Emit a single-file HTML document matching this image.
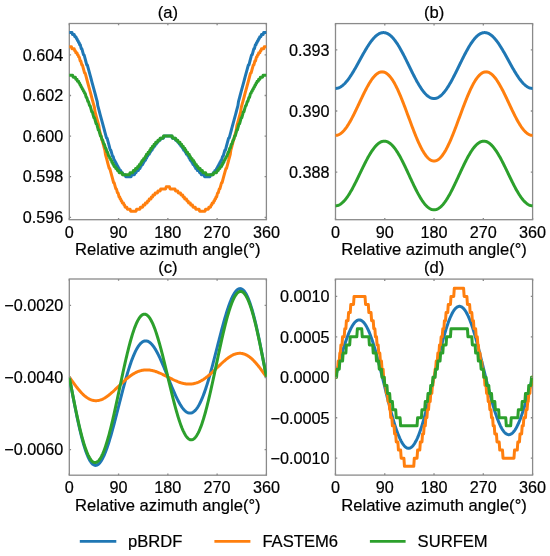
<!DOCTYPE html>
<html><head><meta charset="utf-8"><title>Figure</title>
<style>
html,body{margin:0;padding:0;background:#fff;width:550px;height:556px;overflow:hidden}
svg{display:block}
text{font-family:"Liberation Sans",Arial,Helvetica,sans-serif;fill:#000;stroke:#000;stroke-width:0.2px}
</style></head><body>
<svg width="550" height="556" viewBox="0 0 550 556"><defs><clipPath id="clipa"><rect x="68.95" y="23.15" width="197.8" height="196.9"/></clipPath><clipPath id="clipb"><rect x="335.15" y="23.25" width="197.8" height="196.8"/></clipPath><clipPath id="clipc"><rect x="68.95" y="278.65" width="197.8" height="196.9"/></clipPath><clipPath id="clipd"><rect x="335.1" y="278.75" width="197.85" height="196.7"/></clipPath></defs><rect width="550" height="556" fill="#fff"/><rect x="69.3" y="23.5" width="197.1" height="196.2" fill="none" stroke="#8a8a8a" stroke-width="1.3"/>
<rect x="335.5" y="23.6" width="197.1" height="196.1" fill="none" stroke="#8a8a8a" stroke-width="1.3"/>
<rect x="69.3" y="279" width="197.1" height="196.2" fill="none" stroke="#8a8a8a" stroke-width="1.3"/>
<rect x="335.45" y="279.1" width="197.15" height="196" fill="none" stroke="#8a8a8a" stroke-width="1.3"/>
<path d="M69.3 32.57 L69.85 32.57 L70.39 32.57 L70.94 32.57 L71.49 32.57 L72.04 32.57 L72.58 34.6 L73.13 34.6 L73.68 34.6 L74.23 34.6 L74.77 36.63 L75.32 36.63 L75.87 36.63 L76.42 38.66 L76.97 38.66 L77.51 40.69 L78.06 40.69 L78.61 42.72 L79.16 42.72 L79.7 44.75 L80.25 44.75 L80.8 46.78 L81.34 48.81 L81.89 48.81 L82.44 50.84 L82.99 52.87 L83.53 54.9 L84.08 54.9 L84.63 56.93 L85.18 58.96 L85.72 60.99 L86.27 63.02 L86.82 65.05 L87.37 65.05 L87.91 67.08 L88.46 69.11 L89.01 71.14 L89.56 73.17 L90.1 75.2 L90.65 77.23 L91.2 79.26 L91.75 81.29 L92.29 83.32 L92.84 85.35 L93.39 87.38 L93.94 89.41 L94.48 91.44 L95.03 93.47 L95.58 95.5 L96.13 97.53 L96.67 99.56 L97.22 101.59 L97.77 105.65 L98.32 107.68 L98.86 109.71 L99.41 111.74 L99.96 113.77 L100.51 115.8 L101.05 117.83 L101.6 119.86 L102.15 121.89 L102.7 123.92 L103.24 125.95 L103.79 127.98 L104.34 130.01 L104.89 132.04 L105.44 134.07 L105.98 136.1 L106.53 138.13 L107.08 138.13 L107.62 140.16 L108.17 142.19 L108.72 144.22 L109.27 146.25 L109.81 148.28 L110.36 150.31 L110.91 150.31 L111.46 152.34 L112 154.37 L112.55 156.4 L113.1 156.4 L113.65 158.43 L114.19 160.46 L114.74 160.46 L115.29 162.49 L115.84 162.49 L116.38 164.52 L116.93 164.52 L117.48 166.55 L118.03 166.55 L118.57 168.58 L119.12 168.58 L119.67 170.61 L120.22 170.61 L120.76 170.61 L121.31 172.64 L121.86 172.64 L122.41 172.64 L122.95 174.67 L123.5 174.67 L124.05 174.67 L124.6 174.67 L125.14 174.67 L125.69 176.7 L126.24 176.7 L126.79 176.7 L127.33 176.7 L127.88 176.7 L128.43 176.7 L128.98 176.7 L129.52 176.7 L130.07 176.7 L130.62 176.7 L131.17 176.7 L131.71 174.67 L132.26 174.67 L132.81 174.67 L133.36 174.67 L133.9 174.67 L134.45 174.67 L135 172.64 L135.55 172.64 L136.09 172.64 L136.64 170.61 L137.19 170.61 L137.74 170.61 L138.28 170.61 L138.83 168.58 L139.38 168.58 L139.93 168.58 L140.47 166.55 L141.02 166.55 L141.57 164.52 L142.12 164.52 L142.66 164.52 L143.21 162.49 L143.76 162.49 L144.31 160.46 L144.85 160.46 L145.4 160.46 L145.95 158.43 L146.5 158.43 L147.04 156.4 L147.59 156.4 L148.14 154.37 L148.69 154.37 L149.23 154.37 L149.78 152.34 L150.33 152.34 L150.88 150.31 L151.42 150.31 L151.97 150.31 L152.52 148.28 L153.07 148.28 L153.61 146.25 L154.16 146.25 L154.71 146.25 L155.26 144.22 L155.8 144.22 L156.35 144.22 L156.9 142.19 L157.45 142.19 L157.99 142.19 L158.54 140.16 L159.09 140.16 L159.64 140.16 L160.19 140.16 L160.73 138.13 L161.28 138.13 L161.83 138.13 L162.37 138.13 L162.92 138.13 L163.47 138.13 L164.02 136.1 L164.56 136.1 L165.11 136.1 L165.66 136.1 L166.21 136.1 L166.75 136.1 L167.3 136.1 L167.85 136.1 L168.4 136.1 L168.94 136.1 L169.49 136.1 L170.04 136.1 L170.59 136.1 L171.13 136.1 L171.68 136.1 L172.23 138.13 L172.78 138.13 L173.32 138.13 L173.87 138.13 L174.42 138.13 L174.97 138.13 L175.51 140.16 L176.06 140.16 L176.61 140.16 L177.16 140.16 L177.7 142.19 L178.25 142.19 L178.8 142.19 L179.35 144.22 L179.89 144.22 L180.44 144.22 L180.99 146.25 L181.54 146.25 L182.08 146.25 L182.63 148.28 L183.18 148.28 L183.73 150.31 L184.27 150.31 L184.82 150.31 L185.37 152.34 L185.92 152.34 L186.46 154.37 L187.01 154.37 L187.56 154.37 L188.11 156.4 L188.65 156.4 L189.2 158.43 L189.75 158.43 L190.3 160.46 L190.84 160.46 L191.39 160.46 L191.94 162.49 L192.49 162.49 L193.03 164.52 L193.58 164.52 L194.13 164.52 L194.68 166.55 L195.22 166.55 L195.77 168.58 L196.32 168.58 L196.87 168.58 L197.41 170.61 L197.96 170.61 L198.51 170.61 L199.06 170.61 L199.6 172.64 L200.15 172.64 L200.7 172.64 L201.25 174.67 L201.79 174.67 L202.34 174.67 L202.89 174.67 L203.44 174.67 L203.98 174.67 L204.53 176.7 L205.08 176.7 L205.63 176.7 L206.17 176.7 L206.72 176.7 L207.27 176.7 L207.82 176.7 L208.37 176.7 L208.91 176.7 L209.46 176.7 L210.01 176.7 L210.55 174.67 L211.1 174.67 L211.65 174.67 L212.2 174.67 L212.74 174.67 L213.29 172.64 L213.84 172.64 L214.39 172.64 L214.93 170.61 L215.48 170.61 L216.03 170.61 L216.58 168.58 L217.12 168.58 L217.67 166.55 L218.22 166.55 L218.77 164.52 L219.31 164.52 L219.86 162.49 L220.41 162.49 L220.96 160.46 L221.5 160.46 L222.05 158.43 L222.6 156.4 L223.15 156.4 L223.69 154.37 L224.24 152.34 L224.79 150.31 L225.34 150.31 L225.88 148.28 L226.43 146.25 L226.98 144.22 L227.53 142.19 L228.07 140.16 L228.62 138.13 L229.17 138.13 L229.72 136.1 L230.26 134.07 L230.81 132.04 L231.36 130.01 L231.91 127.98 L232.45 125.95 L233 123.92 L233.55 121.89 L234.1 119.86 L234.64 117.83 L235.19 115.8 L235.74 113.77 L236.29 111.74 L236.83 109.71 L237.38 107.68 L237.93 105.65 L238.48 101.59 L239.02 99.56 L239.57 97.53 L240.12 95.5 L240.67 93.47 L241.21 91.44 L241.76 89.41 L242.31 87.38 L242.86 85.35 L243.4 83.32 L243.95 81.29 L244.5 79.26 L245.05 77.23 L245.59 75.2 L246.14 73.17 L246.69 71.14 L247.24 69.11 L247.78 67.08 L248.33 65.05 L248.88 65.05 L249.43 63.02 L249.97 60.99 L250.52 58.96 L251.07 56.93 L251.62 54.9 L252.16 54.9 L252.71 52.87 L253.26 50.84 L253.81 48.81 L254.35 48.81 L254.9 46.78 L255.45 44.75 L256 44.75 L256.54 42.72 L257.09 42.72 L257.64 40.69 L258.19 40.69 L258.73 38.66 L259.28 38.66 L259.83 36.63 L260.38 36.63 L260.92 36.63 L261.47 34.6 L262.02 34.6 L262.57 34.6 L263.12 34.6 L263.66 32.57 L264.21 32.57 L264.76 32.57 L265.3 32.57 L265.85 32.57 L266.4 32.57" fill="none" stroke="#1f77b4" stroke-width="3.0" stroke-linejoin="round" stroke-linecap="butt" clip-path="url(#clipa)"/>
<path d="M69.3 46.78 L69.85 46.78 L70.39 46.78 L70.94 46.78 L71.49 46.78 L72.04 48.81 L72.58 48.81 L73.13 48.81 L73.68 48.81 L74.23 48.81 L74.77 50.84 L75.32 50.84 L75.87 52.87 L76.42 52.87 L76.97 52.87 L77.51 54.9 L78.06 54.9 L78.61 56.93 L79.16 56.93 L79.7 58.96 L80.25 60.99 L80.8 60.99 L81.34 63.02 L81.89 65.05 L82.44 65.05 L82.99 67.08 L83.53 69.11 L84.08 71.14 L84.63 73.17 L85.18 73.17 L85.72 75.2 L86.27 77.23 L86.82 79.26 L87.37 81.29 L87.91 83.32 L88.46 85.35 L89.01 87.38 L89.56 89.41 L90.1 91.44 L90.65 93.47 L91.2 95.5 L91.75 97.53 L92.29 99.56 L92.84 101.59 L93.39 103.62 L93.94 105.65 L94.48 107.68 L95.03 111.74 L95.58 113.77 L96.13 115.8 L96.67 117.83 L97.22 119.86 L97.77 121.89 L98.32 123.92 L98.86 125.95 L99.41 130.01 L99.96 132.04 L100.51 134.07 L101.05 136.1 L101.6 138.13 L102.15 140.16 L102.7 142.19 L103.24 144.22 L103.79 146.25 L104.34 148.28 L104.89 150.31 L105.44 154.37 L105.98 156.4 L106.53 158.43 L107.08 160.46 L107.62 162.49 L108.17 164.52 L108.72 166.55 L109.27 168.58 L109.81 168.58 L110.36 170.61 L110.91 172.64 L111.46 174.67 L112 176.7 L112.55 178.73 L113.1 180.76 L113.65 182.79 L114.19 182.79 L114.74 184.82 L115.29 186.85 L115.84 188.88 L116.38 188.88 L116.93 190.91 L117.48 192.94 L118.03 192.94 L118.57 194.97 L119.12 197 L119.67 197 L120.22 199.03 L120.76 199.03 L121.31 201.06 L121.86 201.06 L122.41 203.09 L122.95 203.09 L123.5 203.09 L124.05 205.12 L124.6 205.12 L125.14 207.15 L125.69 207.15 L126.24 207.15 L126.79 207.15 L127.33 209.18 L127.88 209.18 L128.43 209.18 L128.98 209.18 L129.52 209.18 L130.07 209.18 L130.62 211.21 L131.17 211.21 L131.71 211.21 L132.26 211.21 L132.81 211.21 L133.36 211.21 L133.9 211.21 L134.45 211.21 L135 211.21 L135.55 211.21 L136.09 211.21 L136.64 209.18 L137.19 209.18 L137.74 209.18 L138.28 209.18 L138.83 209.18 L139.38 209.18 L139.93 209.18 L140.47 207.15 L141.02 207.15 L141.57 207.15 L142.12 207.15 L142.66 207.15 L143.21 205.12 L143.76 205.12 L144.31 205.12 L144.85 205.12 L145.4 203.09 L145.95 203.09 L146.5 203.09 L147.04 203.09 L147.59 201.06 L148.14 201.06 L148.69 201.06 L149.23 199.03 L149.78 199.03 L150.33 199.03 L150.88 199.03 L151.42 197 L151.97 197 L152.52 197 L153.07 194.97 L153.61 194.97 L154.16 194.97 L154.71 194.97 L155.26 192.94 L155.8 192.94 L156.35 192.94 L156.9 192.94 L157.45 192.94 L157.99 190.91 L158.54 190.91 L159.09 190.91 L159.64 190.91 L160.19 190.91 L160.73 188.88 L161.28 188.88 L161.83 188.88 L162.37 188.88 L162.92 188.88 L163.47 188.88 L164.02 188.88 L164.56 188.88 L165.11 188.88 L165.66 188.88 L166.21 186.85 L166.75 186.85 L167.3 186.85 L167.85 186.85 L168.4 186.85 L168.94 186.85 L169.49 186.85 L170.04 188.88 L170.59 188.88 L171.13 188.88 L171.68 188.88 L172.23 188.88 L172.78 188.88 L173.32 188.88 L173.87 188.88 L174.42 188.88 L174.97 188.88 L175.51 190.91 L176.06 190.91 L176.61 190.91 L177.16 190.91 L177.7 190.91 L178.25 192.94 L178.8 192.94 L179.35 192.94 L179.89 192.94 L180.44 192.94 L180.99 194.97 L181.54 194.97 L182.08 194.97 L182.63 194.97 L183.18 197 L183.73 197 L184.27 197 L184.82 199.03 L185.37 199.03 L185.92 199.03 L186.46 199.03 L187.01 201.06 L187.56 201.06 L188.11 201.06 L188.65 203.09 L189.2 203.09 L189.75 203.09 L190.3 203.09 L190.84 205.12 L191.39 205.12 L191.94 205.12 L192.49 205.12 L193.03 207.15 L193.58 207.15 L194.13 207.15 L194.68 207.15 L195.22 207.15 L195.77 209.18 L196.32 209.18 L196.87 209.18 L197.41 209.18 L197.96 209.18 L198.51 209.18 L199.06 209.18 L199.6 211.21 L200.15 211.21 L200.7 211.21 L201.25 211.21 L201.79 211.21 L202.34 211.21 L202.89 211.21 L203.44 211.21 L203.98 211.21 L204.53 211.21 L205.08 211.21 L205.63 209.18 L206.17 209.18 L206.72 209.18 L207.27 209.18 L207.82 209.18 L208.37 209.18 L208.91 207.15 L209.46 207.15 L210.01 207.15 L210.55 207.15 L211.1 205.12 L211.65 205.12 L212.2 203.09 L212.74 203.09 L213.29 203.09 L213.84 201.06 L214.39 201.06 L214.93 199.03 L215.48 199.03 L216.03 197 L216.58 197 L217.12 194.97 L217.67 192.94 L218.22 192.94 L218.77 190.91 L219.31 188.88 L219.86 188.88 L220.41 186.85 L220.96 184.82 L221.5 182.79 L222.05 182.79 L222.6 180.76 L223.15 178.73 L223.69 176.7 L224.24 174.67 L224.79 172.64 L225.34 170.61 L225.88 168.58 L226.43 168.58 L226.98 166.55 L227.53 164.52 L228.07 162.49 L228.62 160.46 L229.17 158.43 L229.72 156.4 L230.26 154.37 L230.81 150.31 L231.36 148.28 L231.91 146.25 L232.45 144.22 L233 142.19 L233.55 140.16 L234.1 138.13 L234.64 136.1 L235.19 134.07 L235.74 132.04 L236.29 130.01 L236.83 125.95 L237.38 123.92 L237.93 121.89 L238.48 119.86 L239.02 117.83 L239.57 115.8 L240.12 113.77 L240.67 111.74 L241.21 107.68 L241.76 105.65 L242.31 103.62 L242.86 101.59 L243.4 99.56 L243.95 97.53 L244.5 95.5 L245.05 93.47 L245.59 91.44 L246.14 89.41 L246.69 87.38 L247.24 85.35 L247.78 83.32 L248.33 81.29 L248.88 79.26 L249.43 77.23 L249.97 75.2 L250.52 73.17 L251.07 73.17 L251.62 71.14 L252.16 69.11 L252.71 67.08 L253.26 65.05 L253.81 65.05 L254.35 63.02 L254.9 60.99 L255.45 60.99 L256 58.96 L256.54 56.93 L257.09 56.93 L257.64 54.9 L258.19 54.9 L258.73 52.87 L259.28 52.87 L259.83 52.87 L260.38 50.84 L260.92 50.84 L261.47 48.81 L262.02 48.81 L262.57 48.81 L263.12 48.81 L263.66 48.81 L264.21 46.78 L264.76 46.78 L265.3 46.78 L265.85 46.78 L266.4 46.78" fill="none" stroke="#ff7f0e" stroke-width="3.0" stroke-linejoin="round" stroke-linecap="butt" clip-path="url(#clipa)"/>
<path d="M69.3 75.2 L69.85 75.2 L70.39 75.2 L70.94 75.2 L71.49 75.2 L72.04 75.2 L72.58 75.2 L73.13 77.23 L73.68 77.23 L74.23 77.23 L74.77 77.23 L75.32 77.23 L75.87 79.26 L76.42 79.26 L76.97 79.26 L77.51 81.29 L78.06 81.29 L78.61 81.29 L79.16 83.32 L79.7 83.32 L80.25 85.35 L80.8 85.35 L81.34 87.38 L81.89 87.38 L82.44 89.41 L82.99 89.41 L83.53 91.44 L84.08 91.44 L84.63 93.47 L85.18 93.47 L85.72 95.5 L86.27 97.53 L86.82 97.53 L87.37 99.56 L87.91 101.59 L88.46 101.59 L89.01 103.62 L89.56 105.65 L90.1 105.65 L90.65 107.68 L91.2 109.71 L91.75 111.74 L92.29 111.74 L92.84 113.77 L93.39 115.8 L93.94 117.83 L94.48 117.83 L95.03 119.86 L95.58 121.89 L96.13 123.92 L96.67 123.92 L97.22 125.95 L97.77 127.98 L98.32 130.01 L98.86 130.01 L99.41 132.04 L99.96 134.07 L100.51 136.1 L101.05 136.1 L101.6 138.13 L102.15 140.16 L102.7 140.16 L103.24 142.19 L103.79 144.22 L104.34 144.22 L104.89 146.25 L105.44 148.28 L105.98 148.28 L106.53 150.31 L107.08 152.34 L107.62 152.34 L108.17 154.37 L108.72 156.4 L109.27 156.4 L109.81 158.43 L110.36 158.43 L110.91 160.46 L111.46 160.46 L112 162.49 L112.55 162.49 L113.1 164.52 L113.65 164.52 L114.19 166.55 L114.74 166.55 L115.29 166.55 L115.84 168.58 L116.38 168.58 L116.93 168.58 L117.48 170.61 L118.03 170.61 L118.57 170.61 L119.12 172.64 L119.67 172.64 L120.22 172.64 L120.76 172.64 L121.31 172.64 L121.86 172.64 L122.41 174.67 L122.95 174.67 L123.5 174.67 L124.05 174.67 L124.6 174.67 L125.14 174.67 L125.69 174.67 L126.24 174.67 L126.79 174.67 L127.33 174.67 L127.88 174.67 L128.43 174.67 L128.98 174.67 L129.52 174.67 L130.07 172.64 L130.62 172.64 L131.17 172.64 L131.71 172.64 L132.26 172.64 L132.81 172.64 L133.36 170.61 L133.9 170.61 L134.45 170.61 L135 170.61 L135.55 168.58 L136.09 168.58 L136.64 168.58 L137.19 168.58 L137.74 166.55 L138.28 166.55 L138.83 166.55 L139.38 164.52 L139.93 164.52 L140.47 164.52 L141.02 162.49 L141.57 162.49 L142.12 160.46 L142.66 160.46 L143.21 160.46 L143.76 158.43 L144.31 158.43 L144.85 158.43 L145.4 156.4 L145.95 156.4 L146.5 154.37 L147.04 154.37 L147.59 154.37 L148.14 152.34 L148.69 152.34 L149.23 152.34 L149.78 150.31 L150.33 150.31 L150.88 148.28 L151.42 148.28 L151.97 148.28 L152.52 146.25 L153.07 146.25 L153.61 146.25 L154.16 144.22 L154.71 144.22 L155.26 144.22 L155.8 142.19 L156.35 142.19 L156.9 142.19 L157.45 142.19 L157.99 140.16 L158.54 140.16 L159.09 140.16 L159.64 140.16 L160.19 138.13 L160.73 138.13 L161.28 138.13 L161.83 138.13 L162.37 138.13 L162.92 138.13 L163.47 136.1 L164.02 136.1 L164.56 136.1 L165.11 136.1 L165.66 136.1 L166.21 136.1 L166.75 136.1 L167.3 136.1 L167.85 136.1 L168.4 136.1 L168.94 136.1 L169.49 136.1 L170.04 136.1 L170.59 136.1 L171.13 136.1 L171.68 136.1 L172.23 136.1 L172.78 138.13 L173.32 138.13 L173.87 138.13 L174.42 138.13 L174.97 138.13 L175.51 138.13 L176.06 140.16 L176.61 140.16 L177.16 140.16 L177.7 140.16 L178.25 142.19 L178.8 142.19 L179.35 142.19 L179.89 142.19 L180.44 144.22 L180.99 144.22 L181.54 144.22 L182.08 146.25 L182.63 146.25 L183.18 146.25 L183.73 148.28 L184.27 148.28 L184.82 148.28 L185.37 150.31 L185.92 150.31 L186.46 152.34 L187.01 152.34 L187.56 152.34 L188.11 154.37 L188.65 154.37 L189.2 154.37 L189.75 156.4 L190.3 156.4 L190.84 158.43 L191.39 158.43 L191.94 158.43 L192.49 160.46 L193.03 160.46 L193.58 160.46 L194.13 162.49 L194.68 162.49 L195.22 164.52 L195.77 164.52 L196.32 164.52 L196.87 166.55 L197.41 166.55 L197.96 166.55 L198.51 168.58 L199.06 168.58 L199.6 168.58 L200.15 168.58 L200.7 170.61 L201.25 170.61 L201.79 170.61 L202.34 170.61 L202.89 172.64 L203.44 172.64 L203.98 172.64 L204.53 172.64 L205.08 172.64 L205.63 172.64 L206.17 174.67 L206.72 174.67 L207.27 174.67 L207.82 174.67 L208.37 174.67 L208.91 174.67 L209.46 174.67 L210.01 174.67 L210.55 174.67 L211.1 174.67 L211.65 174.67 L212.2 174.67 L212.74 174.67 L213.29 174.67 L213.84 172.64 L214.39 172.64 L214.93 172.64 L215.48 172.64 L216.03 172.64 L216.58 172.64 L217.12 170.61 L217.67 170.61 L218.22 170.61 L218.77 168.58 L219.31 168.58 L219.86 168.58 L220.41 166.55 L220.96 166.55 L221.5 166.55 L222.05 164.52 L222.6 164.52 L223.15 162.49 L223.69 162.49 L224.24 160.46 L224.79 160.46 L225.34 158.43 L225.88 158.43 L226.43 156.4 L226.98 156.4 L227.53 154.37 L228.07 152.34 L228.62 152.34 L229.17 150.31 L229.72 148.28 L230.26 148.28 L230.81 146.25 L231.36 144.22 L231.91 144.22 L232.45 142.19 L233 140.16 L233.55 140.16 L234.1 138.13 L234.64 136.1 L235.19 136.1 L235.74 134.07 L236.29 132.04 L236.83 130.01 L237.38 130.01 L237.93 127.98 L238.48 125.95 L239.02 123.92 L239.57 123.92 L240.12 121.89 L240.67 119.86 L241.21 117.83 L241.76 117.83 L242.31 115.8 L242.86 113.77 L243.4 111.74 L243.95 111.74 L244.5 109.71 L245.05 107.68 L245.59 105.65 L246.14 105.65 L246.69 103.62 L247.24 101.59 L247.78 101.59 L248.33 99.56 L248.88 97.53 L249.43 97.53 L249.97 95.5 L250.52 93.47 L251.07 93.47 L251.62 91.44 L252.16 91.44 L252.71 89.41 L253.26 89.41 L253.81 87.38 L254.35 87.38 L254.9 85.35 L255.45 85.35 L256 83.32 L256.54 83.32 L257.09 81.29 L257.64 81.29 L258.19 81.29 L258.73 79.26 L259.28 79.26 L259.83 79.26 L260.38 77.23 L260.92 77.23 L261.47 77.23 L262.02 77.23 L262.57 77.23 L263.12 75.2 L263.66 75.2 L264.21 75.2 L264.76 75.2 L265.3 75.2 L265.85 75.2 L266.4 75.2" fill="none" stroke="#2ca02c" stroke-width="3.0" stroke-linejoin="round" stroke-linecap="butt" clip-path="url(#clipa)"/>
<path d="M335.5 88.41 L336.05 88.39 L336.6 88.34 L337.14 88.25 L337.69 88.13 L338.24 87.97 L338.79 87.77 L339.33 87.55 L339.88 87.28 L340.43 86.99 L340.98 86.65 L341.52 86.29 L342.07 85.89 L342.62 85.46 L343.17 85 L343.71 84.51 L344.26 83.99 L344.81 83.44 L345.36 82.86 L345.9 82.24 L346.45 81.61 L347 80.94 L347.55 80.25 L348.09 79.54 L348.64 78.79 L349.19 78.03 L349.74 77.24 L350.28 76.44 L350.83 75.61 L351.38 74.76 L351.93 73.9 L352.47 73.01 L353.02 72.12 L353.57 71.2 L354.12 70.27 L354.66 69.33 L355.21 68.38 L355.76 67.42 L356.31 66.45 L356.85 65.47 L357.4 64.49 L357.95 63.5 L358.5 62.5 L359.04 61.51 L359.59 60.51 L360.14 59.51 L360.69 58.51 L361.23 57.52 L361.78 56.53 L362.33 55.54 L362.88 54.56 L363.42 53.59 L363.97 52.62 L364.52 51.67 L365.06 50.72 L365.61 49.79 L366.16 48.88 L366.71 47.97 L367.25 47.09 L367.8 46.22 L368.35 45.37 L368.9 44.53 L369.44 43.72 L369.99 42.93 L370.54 42.16 L371.09 41.42 L371.63 40.7 L372.18 40 L372.73 39.33 L373.28 38.69 L373.82 38.08 L374.37 37.5 L374.92 36.94 L375.47 36.42 L376.01 35.92 L376.56 35.46 L377.11 35.03 L377.66 34.64 L378.2 34.28 L378.75 33.95 L379.3 33.66 L379.85 33.4 L380.39 33.17 L380.94 32.99 L381.49 32.84 L382.04 32.72 L382.59 32.64 L383.13 32.6 L383.68 32.6 L384.23 32.63 L384.78 32.7 L385.32 32.81 L385.87 32.95 L386.42 33.13 L386.97 33.35 L387.51 33.6 L388.06 33.89 L388.61 34.22 L389.16 34.58 L389.7 34.98 L390.25 35.41 L390.8 35.88 L391.35 36.38 L391.89 36.91 L392.44 37.48 L392.99 38.08 L393.54 38.71 L394.08 39.37 L394.63 40.06 L395.18 40.78 L395.73 41.53 L396.27 42.31 L396.82 43.12 L397.37 43.95 L397.92 44.81 L398.46 45.69 L399.01 46.59 L399.56 47.52 L400.11 48.46 L400.65 49.43 L401.2 50.41 L401.75 51.42 L402.3 52.44 L402.84 53.47 L403.39 54.52 L403.94 55.59 L404.49 56.66 L405.03 57.75 L405.58 58.84 L406.13 59.94 L406.68 61.05 L407.22 62.17 L407.77 63.28 L408.32 64.4 L408.87 65.53 L409.41 66.65 L409.96 67.77 L410.51 68.89 L411.06 70.01 L411.6 71.12 L412.15 72.22 L412.7 73.32 L413.25 74.41 L413.79 75.49 L414.34 76.55 L414.89 77.61 L415.44 78.65 L415.98 79.67 L416.53 80.68 L417.08 81.67 L417.62 82.64 L418.17 83.6 L418.72 84.53 L419.27 85.44 L419.81 86.32 L420.36 87.18 L420.91 88.02 L421.46 88.83 L422 89.62 L422.55 90.37 L423.1 91.1 L423.65 91.79 L424.19 92.46 L424.74 93.1 L425.29 93.7 L425.84 94.27 L426.38 94.8 L426.93 95.31 L427.48 95.77 L428.03 96.21 L428.58 96.6 L429.12 96.96 L429.67 97.28 L430.22 97.57 L430.76 97.82 L431.31 98.03 L431.86 98.2 L432.41 98.34 L432.96 98.43 L433.5 98.49 L434.05 98.51 L434.6 98.49 L435.14 98.43 L435.69 98.34 L436.24 98.2 L436.79 98.03 L437.34 97.82 L437.88 97.57 L438.43 97.28 L438.98 96.96 L439.53 96.6 L440.07 96.21 L440.62 95.77 L441.17 95.31 L441.72 94.8 L442.26 94.27 L442.81 93.7 L443.36 93.1 L443.9 92.46 L444.45 91.79 L445 91.1 L445.55 90.37 L446.1 89.62 L446.64 88.83 L447.19 88.02 L447.74 87.18 L448.29 86.32 L448.83 85.44 L449.38 84.53 L449.93 83.6 L450.48 82.64 L451.02 81.67 L451.57 80.68 L452.12 79.67 L452.67 78.65 L453.21 77.61 L453.76 76.55 L454.31 75.49 L454.86 74.41 L455.4 73.32 L455.95 72.22 L456.5 71.12 L457.05 70.01 L457.59 68.89 L458.14 67.77 L458.69 66.65 L459.24 65.53 L459.78 64.4 L460.33 63.28 L460.88 62.17 L461.43 61.05 L461.97 59.94 L462.52 58.84 L463.07 57.75 L463.62 56.66 L464.16 55.59 L464.71 54.52 L465.26 53.47 L465.81 52.44 L466.35 51.42 L466.9 50.42 L467.45 49.43 L468 48.46 L468.54 47.52 L469.09 46.59 L469.64 45.69 L470.19 44.81 L470.73 43.95 L471.28 43.12 L471.83 42.31 L472.38 41.53 L472.92 40.78 L473.47 40.06 L474.02 39.37 L474.57 38.71 L475.11 38.08 L475.66 37.48 L476.21 36.91 L476.75 36.38 L477.3 35.88 L477.85 35.41 L478.4 34.98 L478.95 34.58 L479.49 34.22 L480.04 33.89 L480.59 33.6 L481.13 33.35 L481.68 33.13 L482.23 32.95 L482.78 32.81 L483.33 32.7 L483.87 32.63 L484.42 32.6 L484.97 32.6 L485.51 32.64 L486.06 32.72 L486.61 32.84 L487.16 32.99 L487.71 33.17 L488.25 33.4 L488.8 33.66 L489.35 33.95 L489.89 34.28 L490.44 34.64 L490.99 35.03 L491.54 35.46 L492.09 35.92 L492.63 36.42 L493.18 36.94 L493.73 37.5 L494.28 38.08 L494.82 38.69 L495.37 39.33 L495.92 40 L496.47 40.7 L497.01 41.42 L497.56 42.16 L498.11 42.93 L498.66 43.72 L499.2 44.53 L499.75 45.37 L500.3 46.22 L500.85 47.09 L501.39 47.97 L501.94 48.88 L502.49 49.79 L503.04 50.72 L503.58 51.67 L504.13 52.62 L504.68 53.59 L505.23 54.56 L505.77 55.54 L506.32 56.53 L506.87 57.52 L507.42 58.51 L507.96 59.51 L508.51 60.51 L509.06 61.51 L509.61 62.5 L510.15 63.5 L510.7 64.49 L511.25 65.47 L511.8 66.45 L512.34 67.42 L512.89 68.38 L513.44 69.33 L513.99 70.27 L514.53 71.2 L515.08 72.12 L515.63 73.01 L516.17 73.9 L516.72 74.76 L517.27 75.61 L517.82 76.44 L518.37 77.24 L518.91 78.03 L519.46 78.79 L520.01 79.54 L520.56 80.25 L521.1 80.94 L521.65 81.61 L522.2 82.24 L522.75 82.86 L523.29 83.44 L523.84 83.99 L524.39 84.51 L524.93 85 L525.48 85.46 L526.03 85.89 L526.58 86.29 L527.12 86.65 L527.67 86.99 L528.22 87.28 L528.77 87.55 L529.32 87.77 L529.86 87.97 L530.41 88.13 L530.96 88.25 L531.5 88.34 L532.05 88.39 L532.6 88.41" fill="none" stroke="#1f77b4" stroke-width="3.0" stroke-linejoin="round" stroke-linecap="butt" clip-path="url(#clipb)"/>
<path d="M335.5 135.4 L336.05 135.38 L336.6 135.32 L337.14 135.21 L337.69 135.06 L338.24 134.87 L338.79 134.64 L339.33 134.37 L339.88 134.06 L340.43 133.7 L340.98 133.31 L341.52 132.88 L342.07 132.4 L342.62 131.89 L343.17 131.34 L343.71 130.76 L344.26 130.14 L344.81 129.48 L345.36 128.79 L345.9 128.06 L346.45 127.31 L347 126.52 L347.55 125.7 L348.09 124.85 L348.64 123.97 L349.19 123.06 L349.74 122.13 L350.28 121.17 L350.83 120.19 L351.38 119.19 L351.93 118.16 L352.47 117.12 L353.02 116.06 L353.57 114.98 L354.12 113.89 L354.66 112.78 L355.21 111.66 L355.76 110.52 L356.31 109.38 L356.85 108.23 L357.4 107.08 L357.95 105.91 L358.5 104.75 L359.04 103.58 L359.59 102.42 L360.14 101.25 L360.69 100.09 L361.23 98.93 L361.78 97.77 L362.33 96.63 L362.88 95.49 L363.42 94.36 L363.97 93.25 L364.52 92.15 L365.06 91.06 L365.61 90 L366.16 88.94 L366.71 87.91 L367.25 86.9 L367.8 85.91 L368.35 84.95 L368.9 84.01 L369.44 83.1 L369.99 82.21 L370.54 81.36 L371.09 80.53 L371.63 79.73 L372.18 78.97 L372.73 78.24 L373.28 77.55 L373.82 76.89 L374.37 76.27 L374.92 75.68 L375.47 75.14 L376.01 74.63 L376.56 74.16 L377.11 73.74 L377.66 73.36 L378.2 73.02 L378.75 72.72 L379.3 72.46 L379.85 72.25 L380.39 72.09 L380.94 71.97 L381.49 71.89 L382.04 71.86 L382.59 71.88 L383.13 71.94 L383.68 72.05 L384.23 72.2 L384.78 72.4 L385.32 72.65 L385.87 72.94 L386.42 73.28 L386.97 73.66 L387.51 74.09 L388.06 74.57 L388.61 75.09 L389.16 75.65 L389.7 76.26 L390.25 76.91 L390.8 77.6 L391.35 78.34 L391.89 79.12 L392.44 79.93 L392.99 80.79 L393.54 81.69 L394.08 82.62 L394.63 83.59 L395.18 84.6 L395.73 85.64 L396.27 86.72 L396.82 87.83 L397.37 88.97 L397.92 90.15 L398.46 91.35 L399.01 92.58 L399.56 93.83 L400.11 95.12 L400.65 96.42 L401.2 97.75 L401.75 99.1 L402.3 100.47 L402.84 101.86 L403.39 103.26 L403.94 104.68 L404.49 106.11 L405.03 107.56 L405.58 109.01 L406.13 110.48 L406.68 111.95 L407.22 113.42 L407.77 114.9 L408.32 116.39 L408.87 117.87 L409.41 119.35 L409.96 120.83 L410.51 122.31 L411.06 123.77 L411.6 125.23 L412.15 126.69 L412.7 128.13 L413.25 129.56 L413.79 130.97 L414.34 132.37 L414.89 133.75 L415.44 135.11 L415.98 136.45 L416.53 137.77 L417.08 139.06 L417.62 140.34 L418.17 141.58 L418.72 142.8 L419.27 143.98 L419.81 145.14 L420.36 146.26 L420.91 147.35 L421.46 148.41 L422 149.43 L422.55 150.42 L423.1 151.36 L423.65 152.27 L424.19 153.14 L424.74 153.96 L425.29 154.75 L425.84 155.49 L426.38 156.18 L426.93 156.84 L427.48 157.44 L428.03 158.01 L428.58 158.52 L429.12 158.99 L429.67 159.41 L430.22 159.78 L430.76 160.1 L431.31 160.38 L431.86 160.6 L432.41 160.77 L432.96 160.9 L433.5 160.97 L434.05 161 L434.6 160.97 L435.14 160.9 L435.69 160.77 L436.24 160.6 L436.79 160.38 L437.34 160.1 L437.88 159.78 L438.43 159.41 L438.98 158.99 L439.53 158.52 L440.07 158.01 L440.62 157.44 L441.17 156.84 L441.72 156.18 L442.26 155.49 L442.81 154.75 L443.36 153.96 L443.9 153.14 L444.45 152.27 L445 151.36 L445.55 150.42 L446.1 149.43 L446.64 148.41 L447.19 147.35 L447.74 146.26 L448.29 145.14 L448.83 143.98 L449.38 142.8 L449.93 141.58 L450.48 140.34 L451.02 139.06 L451.57 137.77 L452.12 136.45 L452.67 135.11 L453.21 133.75 L453.76 132.37 L454.31 130.97 L454.86 129.56 L455.4 128.13 L455.95 126.69 L456.5 125.23 L457.05 123.77 L457.59 122.31 L458.14 120.83 L458.69 119.35 L459.24 117.87 L459.78 116.39 L460.33 114.9 L460.88 113.42 L461.43 111.95 L461.97 110.48 L462.52 109.01 L463.07 107.56 L463.62 106.11 L464.16 104.68 L464.71 103.26 L465.26 101.86 L465.81 100.47 L466.35 99.1 L466.9 97.75 L467.45 96.42 L468 95.12 L468.54 93.83 L469.09 92.58 L469.64 91.35 L470.19 90.15 L470.73 88.97 L471.28 87.83 L471.83 86.72 L472.38 85.64 L472.92 84.6 L473.47 83.59 L474.02 82.62 L474.57 81.69 L475.11 80.79 L475.66 79.93 L476.21 79.12 L476.75 78.34 L477.3 77.6 L477.85 76.91 L478.4 76.26 L478.95 75.65 L479.49 75.09 L480.04 74.57 L480.59 74.09 L481.13 73.66 L481.68 73.28 L482.23 72.94 L482.78 72.65 L483.33 72.4 L483.87 72.2 L484.42 72.05 L484.97 71.94 L485.51 71.88 L486.06 71.86 L486.61 71.89 L487.16 71.97 L487.71 72.09 L488.25 72.25 L488.8 72.46 L489.35 72.72 L489.89 73.02 L490.44 73.36 L490.99 73.74 L491.54 74.16 L492.09 74.63 L492.63 75.14 L493.18 75.68 L493.73 76.27 L494.28 76.89 L494.82 77.55 L495.37 78.24 L495.92 78.97 L496.47 79.73 L497.01 80.53 L497.56 81.36 L498.11 82.21 L498.66 83.1 L499.2 84.01 L499.75 84.95 L500.3 85.91 L500.85 86.9 L501.39 87.91 L501.94 88.94 L502.49 90 L503.04 91.06 L503.58 92.15 L504.13 93.25 L504.68 94.36 L505.23 95.49 L505.77 96.63 L506.32 97.77 L506.87 98.93 L507.42 100.09 L507.96 101.25 L508.51 102.42 L509.06 103.58 L509.61 104.75 L510.15 105.91 L510.7 107.08 L511.25 108.23 L511.8 109.38 L512.34 110.52 L512.89 111.66 L513.44 112.78 L513.99 113.89 L514.53 114.98 L515.08 116.06 L515.63 117.12 L516.17 118.16 L516.72 119.19 L517.27 120.19 L517.82 121.17 L518.37 122.13 L518.91 123.06 L519.46 123.97 L520.01 124.85 L520.56 125.7 L521.1 126.52 L521.65 127.31 L522.2 128.06 L522.75 128.79 L523.29 129.48 L523.84 130.14 L524.39 130.76 L524.93 131.34 L525.48 131.89 L526.03 132.4 L526.58 132.88 L527.12 133.31 L527.67 133.7 L528.22 134.06 L528.77 134.37 L529.32 134.64 L529.86 134.87 L530.41 135.06 L530.96 135.21 L531.5 135.32 L532.05 135.38 L532.6 135.4" fill="none" stroke="#ff7f0e" stroke-width="3.0" stroke-linejoin="round" stroke-linecap="butt" clip-path="url(#clipb)"/>
<path d="M335.5 205.8 L336.05 205.78 L336.6 205.72 L337.14 205.62 L337.69 205.48 L338.24 205.3 L338.79 205.08 L339.33 204.83 L339.88 204.53 L340.43 204.19 L340.98 203.82 L341.52 203.41 L342.07 202.96 L342.62 202.48 L343.17 201.96 L343.71 201.41 L344.26 200.82 L344.81 200.19 L345.36 199.54 L345.9 198.85 L346.45 198.13 L347 197.38 L347.55 196.6 L348.09 195.79 L348.64 194.95 L349.19 194.09 L349.74 193.2 L350.28 192.29 L350.83 191.36 L351.38 190.4 L351.93 189.42 L352.47 188.42 L353.02 187.4 L353.57 186.37 L354.12 185.32 L354.66 184.25 L355.21 183.17 L355.76 182.08 L356.31 180.98 L356.85 179.87 L357.4 178.75 L357.95 177.63 L358.5 176.49 L359.04 175.36 L359.59 174.22 L360.14 173.09 L360.69 171.95 L361.23 170.81 L361.78 169.68 L362.33 168.55 L362.88 167.43 L363.42 166.32 L363.97 165.21 L364.52 164.12 L365.06 163.03 L365.61 161.96 L366.16 160.91 L366.71 159.87 L367.25 158.84 L367.8 157.84 L368.35 156.85 L368.9 155.88 L369.44 154.94 L369.99 154.02 L370.54 153.12 L371.09 152.25 L371.63 151.4 L372.18 150.59 L372.73 149.8 L373.28 149.04 L373.82 148.31 L374.37 147.61 L374.92 146.94 L375.47 146.31 L376.01 145.71 L376.56 145.14 L377.11 144.61 L377.66 144.12 L378.2 143.66 L378.75 143.24 L379.3 142.86 L379.85 142.52 L380.39 142.21 L380.94 141.95 L381.49 141.72 L382.04 141.53 L382.59 141.38 L383.13 141.28 L383.68 141.21 L384.23 141.19 L384.78 141.2 L385.32 141.26 L385.87 141.35 L386.42 141.49 L386.97 141.66 L387.51 141.88 L388.06 142.14 L388.61 142.43 L389.16 142.77 L389.7 143.14 L390.25 143.56 L390.8 144.01 L391.35 144.49 L391.89 145.02 L392.44 145.58 L392.99 146.18 L393.54 146.81 L394.08 147.48 L394.63 148.18 L395.18 148.91 L395.73 149.67 L396.27 150.47 L396.82 151.3 L397.37 152.15 L397.92 153.03 L398.46 153.94 L399.01 154.88 L399.56 155.83 L400.11 156.82 L400.65 157.82 L401.2 158.85 L401.75 159.9 L402.3 160.96 L402.84 162.04 L403.39 163.14 L403.94 164.26 L404.49 165.39 L405.03 166.52 L405.58 167.68 L406.13 168.84 L406.68 170 L407.22 171.18 L407.77 172.36 L408.32 173.54 L408.87 174.73 L409.41 175.91 L409.96 177.1 L410.51 178.29 L411.06 179.47 L411.6 180.64 L412.15 181.81 L412.7 182.98 L413.25 184.13 L413.79 185.28 L414.34 186.41 L414.89 187.53 L415.44 188.63 L415.98 189.72 L416.53 190.79 L417.08 191.85 L417.62 192.88 L418.17 193.9 L418.72 194.89 L419.27 195.86 L419.81 196.8 L420.36 197.72 L420.91 198.61 L421.46 199.47 L422 200.31 L422.55 201.11 L423.1 201.89 L423.65 202.63 L424.19 203.34 L424.74 204.02 L425.29 204.66 L425.84 205.27 L426.38 205.84 L426.93 206.38 L427.48 206.88 L428.03 207.34 L428.58 207.76 L429.12 208.15 L429.67 208.49 L430.22 208.8 L430.76 209.06 L431.31 209.29 L431.86 209.47 L432.41 209.61 L432.96 209.72 L433.5 209.78 L434.05 209.8 L434.6 209.78 L435.14 209.72 L435.69 209.61 L436.24 209.47 L436.79 209.29 L437.34 209.06 L437.88 208.8 L438.43 208.49 L438.98 208.15 L439.53 207.76 L440.07 207.34 L440.62 206.88 L441.17 206.38 L441.72 205.84 L442.26 205.27 L442.81 204.66 L443.36 204.02 L443.9 203.34 L444.45 202.63 L445 201.89 L445.55 201.11 L446.1 200.31 L446.64 199.47 L447.19 198.61 L447.74 197.72 L448.29 196.8 L448.83 195.86 L449.38 194.89 L449.93 193.9 L450.48 192.88 L451.02 191.85 L451.57 190.79 L452.12 189.72 L452.67 188.63 L453.21 187.53 L453.76 186.41 L454.31 185.28 L454.86 184.13 L455.4 182.98 L455.95 181.81 L456.5 180.64 L457.05 179.47 L457.59 178.29 L458.14 177.1 L458.69 175.91 L459.24 174.73 L459.78 173.54 L460.33 172.36 L460.88 171.18 L461.43 170 L461.97 168.84 L462.52 167.68 L463.07 166.52 L463.62 165.39 L464.16 164.26 L464.71 163.14 L465.26 162.04 L465.81 160.96 L466.35 159.9 L466.9 158.85 L467.45 157.82 L468 156.82 L468.54 155.83 L469.09 154.88 L469.64 153.94 L470.19 153.03 L470.73 152.15 L471.28 151.3 L471.83 150.47 L472.38 149.67 L472.92 148.91 L473.47 148.18 L474.02 147.48 L474.57 146.81 L475.11 146.18 L475.66 145.58 L476.21 145.02 L476.75 144.49 L477.3 144.01 L477.85 143.56 L478.4 143.14 L478.95 142.77 L479.49 142.43 L480.04 142.14 L480.59 141.88 L481.13 141.66 L481.68 141.49 L482.23 141.35 L482.78 141.26 L483.33 141.2 L483.87 141.19 L484.42 141.21 L484.97 141.28 L485.51 141.38 L486.06 141.53 L486.61 141.72 L487.16 141.95 L487.71 142.21 L488.25 142.52 L488.8 142.86 L489.35 143.24 L489.89 143.66 L490.44 144.12 L490.99 144.61 L491.54 145.14 L492.09 145.71 L492.63 146.31 L493.18 146.94 L493.73 147.61 L494.28 148.31 L494.82 149.04 L495.37 149.8 L495.92 150.59 L496.47 151.4 L497.01 152.25 L497.56 153.12 L498.11 154.02 L498.66 154.94 L499.2 155.88 L499.75 156.85 L500.3 157.84 L500.85 158.84 L501.39 159.87 L501.94 160.91 L502.49 161.96 L503.04 163.03 L503.58 164.12 L504.13 165.21 L504.68 166.32 L505.23 167.43 L505.77 168.55 L506.32 169.68 L506.87 170.81 L507.42 171.95 L507.96 173.09 L508.51 174.22 L509.06 175.36 L509.61 176.49 L510.15 177.63 L510.7 178.75 L511.25 179.87 L511.8 180.98 L512.34 182.08 L512.89 183.17 L513.44 184.25 L513.99 185.32 L514.53 186.37 L515.08 187.4 L515.63 188.42 L516.17 189.42 L516.72 190.4 L517.27 191.36 L517.82 192.29 L518.37 193.2 L518.91 194.09 L519.46 194.95 L520.01 195.79 L520.56 196.6 L521.1 197.38 L521.65 198.13 L522.2 198.85 L522.75 199.54 L523.29 200.19 L523.84 200.82 L524.39 201.41 L524.93 201.96 L525.48 202.48 L526.03 202.96 L526.58 203.41 L527.12 203.82 L527.67 204.19 L528.22 204.53 L528.77 204.83 L529.32 205.08 L529.86 205.3 L530.41 205.48 L530.96 205.62 L531.5 205.72 L532.05 205.78 L532.6 205.8" fill="none" stroke="#2ca02c" stroke-width="3.0" stroke-linejoin="round" stroke-linecap="butt" clip-path="url(#clipb)"/>
<path d="M69.3 377 L69.85 379.94 L70.39 382.87 L70.94 385.79 L71.49 388.71 L72.04 391.61 L72.58 394.49 L73.13 397.36 L73.68 400.2 L74.23 403.02 L74.77 405.8 L75.32 408.56 L75.87 411.27 L76.42 413.95 L76.97 416.59 L77.51 419.18 L78.06 421.73 L78.61 424.22 L79.16 426.66 L79.7 429.05 L80.25 431.37 L80.8 433.64 L81.34 435.84 L81.89 437.98 L82.44 440.05 L82.99 442.05 L83.53 443.97 L84.08 445.83 L84.63 447.61 L85.18 449.31 L85.72 450.93 L86.27 452.47 L86.82 453.93 L87.37 455.3 L87.91 456.59 L88.46 457.8 L89.01 458.92 L89.56 459.95 L90.1 460.89 L90.65 461.74 L91.2 462.51 L91.75 463.18 L92.29 463.77 L92.84 464.26 L93.39 464.67 L93.94 464.98 L94.48 465.21 L95.03 465.35 L95.58 465.39 L96.13 465.35 L96.67 465.22 L97.22 465 L97.77 464.7 L98.32 464.31 L98.86 463.84 L99.41 463.29 L99.96 462.65 L100.51 461.93 L101.05 461.14 L101.6 460.26 L102.15 459.32 L102.7 458.29 L103.24 457.2 L103.79 456.03 L104.34 454.8 L104.89 453.5 L105.44 452.14 L105.98 450.71 L106.53 449.22 L107.08 447.68 L107.62 446.08 L108.17 444.43 L108.72 442.73 L109.27 440.98 L109.81 439.19 L110.36 437.35 L110.91 435.48 L111.46 433.56 L112 431.61 L112.55 429.63 L113.1 427.62 L113.65 425.59 L114.19 423.53 L114.74 421.44 L115.29 419.34 L115.84 417.23 L116.38 415.1 L116.93 412.96 L117.48 410.81 L118.03 408.66 L118.57 406.5 L119.12 404.35 L119.67 402.19 L120.22 400.05 L120.76 397.91 L121.31 395.78 L121.86 393.67 L122.41 391.57 L122.95 389.48 L123.5 387.42 L124.05 385.38 L124.6 383.37 L125.14 381.38 L125.69 379.42 L126.24 377.5 L126.79 375.6 L127.33 373.74 L127.88 371.92 L128.43 370.14 L128.98 368.4 L129.52 366.7 L130.07 365.04 L130.62 363.43 L131.17 361.87 L131.71 360.36 L132.26 358.89 L132.81 357.48 L133.36 356.12 L133.9 354.81 L134.45 353.56 L135 352.36 L135.55 351.22 L136.09 350.14 L136.64 349.11 L137.19 348.14 L137.74 347.24 L138.28 346.39 L138.83 345.6 L139.38 344.87 L139.93 344.2 L140.47 343.6 L141.02 343.05 L141.57 342.57 L142.12 342.15 L142.66 341.78 L143.21 341.48 L143.76 341.24 L144.31 341.06 L144.85 340.94 L145.4 340.88 L145.95 340.88 L146.5 340.94 L147.04 341.06 L147.59 341.23 L148.14 341.46 L148.69 341.74 L149.23 342.08 L149.78 342.48 L150.33 342.92 L150.88 343.42 L151.42 343.97 L151.97 344.57 L152.52 345.22 L153.07 345.91 L153.61 346.66 L154.16 347.44 L154.71 348.27 L155.26 349.14 L155.8 350.05 L156.35 351 L156.9 351.99 L157.45 353.01 L157.99 354.07 L158.54 355.16 L159.09 356.28 L159.64 357.43 L160.19 358.61 L160.73 359.81 L161.28 361.04 L161.83 362.29 L162.37 363.56 L162.92 364.85 L163.47 366.16 L164.02 367.48 L164.56 368.82 L165.11 370.16 L165.66 371.52 L166.21 372.88 L166.75 374.25 L167.3 375.62 L167.85 377 L168.4 378.38 L168.94 379.75 L169.49 381.12 L170.04 382.48 L170.59 383.84 L171.13 385.18 L171.68 386.52 L172.23 387.84 L172.78 389.15 L173.32 390.44 L173.87 391.71 L174.42 392.96 L174.97 394.19 L175.51 395.39 L176.06 396.57 L176.61 397.72 L177.16 398.84 L177.7 399.93 L178.25 400.99 L178.8 402.01 L179.35 403 L179.89 403.95 L180.44 404.86 L180.99 405.73 L181.54 406.56 L182.08 407.34 L182.63 408.09 L183.18 408.78 L183.73 409.43 L184.27 410.03 L184.82 410.58 L185.37 411.08 L185.92 411.52 L186.46 411.92 L187.01 412.26 L187.56 412.54 L188.11 412.77 L188.65 412.94 L189.2 413.06 L189.75 413.12 L190.3 413.12 L190.84 413.06 L191.39 412.94 L191.94 412.76 L192.49 412.52 L193.03 412.22 L193.58 411.85 L194.13 411.43 L194.68 410.95 L195.22 410.4 L195.77 409.8 L196.32 409.13 L196.87 408.4 L197.41 407.61 L197.96 406.76 L198.51 405.86 L199.06 404.89 L199.6 403.86 L200.15 402.78 L200.7 401.64 L201.25 400.44 L201.79 399.19 L202.34 397.88 L202.89 396.52 L203.44 395.11 L203.98 393.64 L204.53 392.13 L205.08 390.57 L205.63 388.96 L206.17 387.3 L206.72 385.6 L207.27 383.86 L207.82 382.08 L208.37 380.26 L208.91 378.4 L209.46 376.5 L210.01 374.58 L210.55 372.62 L211.1 370.63 L211.65 368.62 L212.2 366.58 L212.74 364.52 L213.29 362.43 L213.84 360.33 L214.39 358.22 L214.93 356.09 L215.48 353.95 L216.03 351.81 L216.58 349.65 L217.12 347.5 L217.67 345.34 L218.22 343.19 L218.77 341.04 L219.31 338.9 L219.86 336.77 L220.41 334.66 L220.96 332.56 L221.5 330.47 L222.05 328.41 L222.6 326.38 L223.15 324.37 L223.69 322.39 L224.24 320.44 L224.79 318.52 L225.34 316.65 L225.88 314.81 L226.43 313.02 L226.98 311.27 L227.53 309.57 L228.07 307.92 L228.62 306.32 L229.17 304.78 L229.72 303.29 L230.26 301.86 L230.81 300.5 L231.36 299.2 L231.91 297.97 L232.45 296.8 L233 295.71 L233.55 294.68 L234.1 293.74 L234.64 292.86 L235.19 292.07 L235.74 291.35 L236.29 290.71 L236.83 290.16 L237.38 289.69 L237.93 289.3 L238.48 289 L239.02 288.78 L239.57 288.65 L240.12 288.61 L240.67 288.65 L241.21 288.79 L241.76 289.02 L242.31 289.33 L242.86 289.74 L243.4 290.23 L243.95 290.82 L244.5 291.49 L245.05 292.26 L245.59 293.11 L246.14 294.05 L246.69 295.08 L247.24 296.2 L247.78 297.41 L248.33 298.7 L248.88 300.07 L249.43 301.53 L249.97 303.07 L250.52 304.69 L251.07 306.39 L251.62 308.17 L252.16 310.03 L252.71 311.95 L253.26 313.95 L253.81 316.02 L254.35 318.16 L254.9 320.36 L255.45 322.63 L256 324.95 L256.54 327.34 L257.09 329.78 L257.64 332.27 L258.19 334.82 L258.73 337.41 L259.28 340.05 L259.83 342.73 L260.38 345.44 L260.92 348.2 L261.47 350.98 L262.02 353.8 L262.57 356.64 L263.12 359.51 L263.66 362.39 L264.21 365.29 L264.76 368.21 L265.3 371.13 L265.85 374.06 L266.4 377" fill="none" stroke="#1f77b4" stroke-width="3.0" stroke-linejoin="round" stroke-linecap="butt" clip-path="url(#clipc)"/>
<path d="M69.3 377 L69.85 377.78 L70.39 378.56 L70.94 379.34 L71.49 380.11 L72.04 380.88 L72.58 381.65 L73.13 382.41 L73.68 383.17 L74.23 383.91 L74.77 384.66 L75.32 385.39 L75.87 386.11 L76.42 386.82 L76.97 387.52 L77.51 388.21 L78.06 388.89 L78.61 389.56 L79.16 390.21 L79.7 390.84 L80.25 391.46 L80.8 392.07 L81.34 392.65 L81.89 393.22 L82.44 393.78 L82.99 394.31 L83.53 394.83 L84.08 395.32 L84.63 395.8 L85.18 396.25 L85.72 396.69 L86.27 397.1 L86.82 397.5 L87.37 397.87 L87.91 398.22 L88.46 398.54 L89.01 398.85 L89.56 399.13 L90.1 399.39 L90.65 399.62 L91.2 399.83 L91.75 400.02 L92.29 400.19 L92.84 400.33 L93.39 400.45 L93.94 400.54 L94.48 400.62 L95.03 400.67 L95.58 400.69 L96.13 400.7 L96.67 400.68 L97.22 400.63 L97.77 400.57 L98.32 400.48 L98.86 400.38 L99.41 400.25 L99.96 400.1 L100.51 399.93 L101.05 399.74 L101.6 399.53 L102.15 399.3 L102.7 399.05 L103.24 398.79 L103.79 398.5 L104.34 398.2 L104.89 397.88 L105.44 397.55 L105.98 397.2 L106.53 396.83 L107.08 396.45 L107.62 396.06 L108.17 395.65 L108.72 395.23 L109.27 394.8 L109.81 394.36 L110.36 393.91 L110.91 393.44 L111.46 392.97 L112 392.49 L112.55 392 L113.1 391.51 L113.65 391 L114.19 390.5 L114.74 389.98 L115.29 389.46 L115.84 388.94 L116.38 388.42 L116.93 387.89 L117.48 387.36 L118.03 386.83 L118.57 386.3 L119.12 385.77 L119.67 385.24 L120.22 384.71 L120.76 384.19 L121.31 383.66 L121.86 383.14 L122.41 382.63 L122.95 382.12 L123.5 381.61 L124.05 381.11 L124.6 380.61 L125.14 380.13 L125.69 379.64 L126.24 379.17 L126.79 378.71 L127.33 378.25 L127.88 377.8 L128.43 377.36 L128.98 376.94 L129.52 376.52 L130.07 376.11 L130.62 375.71 L131.17 375.33 L131.71 374.96 L132.26 374.59 L132.81 374.24 L133.36 373.91 L133.9 373.58 L134.45 373.27 L135 372.97 L135.55 372.69 L136.09 372.42 L136.64 372.16 L137.19 371.91 L137.74 371.68 L138.28 371.47 L138.83 371.26 L139.38 371.07 L139.93 370.9 L140.47 370.74 L141.02 370.59 L141.57 370.46 L142.12 370.34 L142.66 370.23 L143.21 370.14 L143.76 370.07 L144.31 370 L144.85 369.95 L145.4 369.92 L145.95 369.89 L146.5 369.89 L147.04 369.89 L147.59 369.9 L148.14 369.93 L148.69 369.98 L149.23 370.03 L149.78 370.09 L150.33 370.17 L150.88 370.26 L151.42 370.36 L151.97 370.47 L152.52 370.59 L153.07 370.73 L153.61 370.87 L154.16 371.02 L154.71 371.18 L155.26 371.36 L155.8 371.54 L156.35 371.72 L156.9 371.92 L157.45 372.13 L157.99 372.34 L158.54 372.56 L159.09 372.78 L159.64 373.01 L160.19 373.25 L160.73 373.5 L161.28 373.75 L161.83 374 L162.37 374.26 L162.92 374.52 L163.47 374.79 L164.02 375.06 L164.56 375.33 L165.11 375.6 L165.66 375.88 L166.21 376.16 L166.75 376.44 L167.3 376.72 L167.85 377 L168.4 377.28 L168.94 377.56 L169.49 377.84 L170.04 378.12 L170.59 378.4 L171.13 378.67 L171.68 378.94 L172.23 379.21 L172.78 379.48 L173.32 379.74 L173.87 380 L174.42 380.25 L174.97 380.5 L175.51 380.75 L176.06 380.99 L176.61 381.22 L177.16 381.44 L177.7 381.66 L178.25 381.87 L178.8 382.08 L179.35 382.28 L179.89 382.46 L180.44 382.64 L180.99 382.82 L181.54 382.98 L182.08 383.13 L182.63 383.27 L183.18 383.41 L183.73 383.53 L184.27 383.64 L184.82 383.74 L185.37 383.83 L185.92 383.91 L186.46 383.97 L187.01 384.02 L187.56 384.07 L188.11 384.1 L188.65 384.11 L189.2 384.11 L189.75 384.11 L190.3 384.08 L190.84 384.05 L191.39 384 L191.94 383.93 L192.49 383.86 L193.03 383.77 L193.58 383.66 L194.13 383.54 L194.68 383.41 L195.22 383.26 L195.77 383.1 L196.32 382.93 L196.87 382.74 L197.41 382.53 L197.96 382.32 L198.51 382.09 L199.06 381.84 L199.6 381.58 L200.15 381.31 L200.7 381.03 L201.25 380.73 L201.79 380.42 L202.34 380.09 L202.89 379.76 L203.44 379.41 L203.98 379.04 L204.53 378.67 L205.08 378.29 L205.63 377.89 L206.17 377.48 L206.72 377.06 L207.27 376.64 L207.82 376.2 L208.37 375.75 L208.91 375.29 L209.46 374.83 L210.01 374.36 L210.55 373.87 L211.1 373.39 L211.65 372.89 L212.2 372.39 L212.74 371.88 L213.29 371.37 L213.84 370.86 L214.39 370.34 L214.93 369.81 L215.48 369.29 L216.03 368.76 L216.58 368.23 L217.12 367.7 L217.67 367.17 L218.22 366.64 L218.77 366.11 L219.31 365.58 L219.86 365.06 L220.41 364.54 L220.96 364.02 L221.5 363.5 L222.05 363 L222.6 362.49 L223.15 362 L223.69 361.51 L224.24 361.03 L224.79 360.56 L225.34 360.09 L225.88 359.64 L226.43 359.2 L226.98 358.77 L227.53 358.35 L228.07 357.94 L228.62 357.55 L229.17 357.17 L229.72 356.8 L230.26 356.45 L230.81 356.12 L231.36 355.8 L231.91 355.5 L232.45 355.21 L233 354.95 L233.55 354.7 L234.1 354.47 L234.64 354.26 L235.19 354.07 L235.74 353.9 L236.29 353.75 L236.83 353.62 L237.38 353.52 L237.93 353.43 L238.48 353.37 L239.02 353.32 L239.57 353.3 L240.12 353.31 L240.67 353.33 L241.21 353.38 L241.76 353.46 L242.31 353.55 L242.86 353.67 L243.4 353.81 L243.95 353.98 L244.5 354.17 L245.05 354.38 L245.59 354.61 L246.14 354.87 L246.69 355.15 L247.24 355.46 L247.78 355.78 L248.33 356.13 L248.88 356.5 L249.43 356.9 L249.97 357.31 L250.52 357.75 L251.07 358.2 L251.62 358.68 L252.16 359.17 L252.71 359.69 L253.26 360.22 L253.81 360.78 L254.35 361.35 L254.9 361.93 L255.45 362.54 L256 363.16 L256.54 363.79 L257.09 364.44 L257.64 365.11 L258.19 365.79 L258.73 366.48 L259.28 367.18 L259.83 367.89 L260.38 368.61 L260.92 369.34 L261.47 370.09 L262.02 370.83 L262.57 371.59 L263.12 372.35 L263.66 373.12 L264.21 373.89 L264.76 374.66 L265.3 375.44 L265.85 376.22 L266.4 377" fill="none" stroke="#ff7f0e" stroke-width="3.0" stroke-linejoin="round" stroke-linecap="butt" clip-path="url(#clipc)"/>
<path d="M69.3 377 L69.85 379.86 L70.39 382.72 L70.94 385.58 L71.49 388.42 L72.04 391.25 L72.58 394.07 L73.13 396.86 L73.68 399.64 L74.23 402.39 L74.77 405.11 L75.32 407.79 L75.87 410.45 L76.42 413.06 L76.97 415.64 L77.51 418.17 L78.06 420.65 L78.61 423.09 L79.16 425.47 L79.7 427.8 L80.25 430.07 L80.8 432.29 L81.34 434.44 L81.89 436.52 L82.44 438.54 L82.99 440.49 L83.53 442.37 L84.08 444.18 L84.63 445.91 L85.18 447.56 L85.72 449.14 L86.27 450.63 L86.82 452.04 L87.37 453.37 L87.91 454.61 L88.46 455.77 L89.01 456.84 L89.56 457.82 L90.1 458.71 L90.65 459.51 L91.2 460.22 L91.75 460.84 L92.29 461.37 L92.84 461.8 L93.39 462.14 L93.94 462.38 L94.48 462.54 L95.03 462.59 L95.58 462.56 L96.13 462.43 L96.67 462.21 L97.22 461.89 L97.77 461.49 L98.32 460.99 L98.86 460.4 L99.41 459.73 L99.96 458.96 L100.51 458.1 L101.05 457.16 L101.6 456.14 L102.15 455.03 L102.7 453.84 L103.24 452.56 L103.79 451.21 L104.34 449.78 L104.89 448.28 L105.44 446.7 L105.98 445.05 L106.53 443.33 L107.08 441.55 L107.62 439.7 L108.17 437.78 L108.72 435.81 L109.27 433.78 L109.81 431.69 L110.36 429.55 L110.91 427.36 L111.46 425.13 L112 422.85 L112.55 420.53 L113.1 418.16 L113.65 415.77 L114.19 413.34 L114.74 410.88 L115.29 408.4 L115.84 405.89 L116.38 403.36 L116.93 400.81 L117.48 398.25 L118.03 395.68 L118.57 393.1 L119.12 390.51 L119.67 387.93 L120.22 385.34 L120.76 382.76 L121.31 380.19 L121.86 377.63 L122.41 375.08 L122.95 372.55 L123.5 370.03 L124.05 367.55 L124.6 365.08 L125.14 362.65 L125.69 360.25 L126.24 357.88 L126.79 355.55 L127.33 353.26 L127.88 351.02 L128.43 348.82 L128.98 346.66 L129.52 344.56 L130.07 342.51 L130.62 340.52 L131.17 338.59 L131.71 336.72 L132.26 334.9 L132.81 333.16 L133.36 331.48 L133.9 329.87 L134.45 328.33 L135 326.86 L135.55 325.46 L136.09 324.14 L136.64 322.9 L137.19 321.74 L137.74 320.65 L138.28 319.65 L138.83 318.72 L139.38 317.89 L139.93 317.13 L140.47 316.46 L141.02 315.87 L141.57 315.37 L142.12 314.96 L142.66 314.63 L143.21 314.38 L143.76 314.23 L144.31 314.16 L144.85 314.18 L145.4 314.28 L145.95 314.47 L146.5 314.75 L147.04 315.11 L147.59 315.56 L148.14 316.09 L148.69 316.7 L149.23 317.39 L149.78 318.17 L150.33 319.02 L150.88 319.95 L151.42 320.96 L151.97 322.05 L152.52 323.21 L153.07 324.44 L153.61 325.74 L154.16 327.12 L154.71 328.56 L155.26 330.06 L155.8 331.63 L156.35 333.25 L156.9 334.94 L157.45 336.68 L157.99 338.48 L158.54 340.33 L159.09 342.22 L159.64 344.17 L160.19 346.15 L160.73 348.18 L161.28 350.25 L161.83 352.35 L162.37 354.49 L162.92 356.65 L163.47 358.84 L164.02 361.06 L164.56 363.3 L165.11 365.55 L165.66 367.82 L166.21 370.11 L166.75 372.4 L167.3 374.7 L167.85 377 L168.4 379.3 L168.94 381.6 L169.49 383.89 L170.04 386.18 L170.59 388.45 L171.13 390.7 L171.68 392.94 L172.23 395.16 L172.78 397.35 L173.32 399.51 L173.87 401.65 L174.42 403.75 L174.97 405.82 L175.51 407.85 L176.06 409.83 L176.61 411.78 L177.16 413.67 L177.7 415.52 L178.25 417.32 L178.8 419.06 L179.35 420.75 L179.89 422.37 L180.44 423.94 L180.99 425.44 L181.54 426.88 L182.08 428.26 L182.63 429.56 L183.18 430.79 L183.73 431.95 L184.27 433.04 L184.82 434.05 L185.37 434.98 L185.92 435.83 L186.46 436.61 L187.01 437.3 L187.56 437.91 L188.11 438.44 L188.65 438.89 L189.2 439.25 L189.75 439.53 L190.3 439.72 L190.84 439.82 L191.39 439.84 L191.94 439.77 L192.49 439.62 L193.03 439.37 L193.58 439.04 L194.13 438.63 L194.68 438.13 L195.22 437.54 L195.77 436.87 L196.32 436.11 L196.87 435.28 L197.41 434.35 L197.96 433.35 L198.51 432.26 L199.06 431.1 L199.6 429.86 L200.15 428.54 L200.7 427.14 L201.25 425.67 L201.79 424.13 L202.34 422.52 L202.89 420.84 L203.44 419.1 L203.98 417.28 L204.53 415.41 L205.08 413.48 L205.63 411.49 L206.17 409.44 L206.72 407.34 L207.27 405.18 L207.82 402.98 L208.37 400.74 L208.91 398.45 L209.46 396.12 L210.01 393.75 L210.55 391.35 L211.1 388.92 L211.65 386.45 L212.2 383.97 L212.74 381.45 L213.29 378.92 L213.84 376.37 L214.39 373.81 L214.93 371.24 L215.48 368.66 L216.03 366.07 L216.58 363.49 L217.12 360.9 L217.67 358.32 L218.22 355.75 L218.77 353.19 L219.31 350.64 L219.86 348.11 L220.41 345.6 L220.96 343.12 L221.5 340.66 L222.05 338.23 L222.6 335.84 L223.15 333.47 L223.69 331.15 L224.24 328.87 L224.79 326.64 L225.34 324.45 L225.88 322.31 L226.43 320.22 L226.98 318.19 L227.53 316.22 L228.07 314.3 L228.62 312.45 L229.17 310.67 L229.72 308.95 L230.26 307.3 L230.81 305.72 L231.36 304.22 L231.91 302.79 L232.45 301.44 L233 300.16 L233.55 298.97 L234.1 297.86 L234.64 296.84 L235.19 295.9 L235.74 295.04 L236.29 294.27 L236.83 293.6 L237.38 293.01 L237.93 292.51 L238.48 292.11 L239.02 291.79 L239.57 291.57 L240.12 291.44 L240.67 291.41 L241.21 291.46 L241.76 291.62 L242.31 291.86 L242.86 292.2 L243.4 292.63 L243.95 293.16 L244.5 293.78 L245.05 294.49 L245.59 295.29 L246.14 296.18 L246.69 297.16 L247.24 298.23 L247.78 299.39 L248.33 300.63 L248.88 301.96 L249.43 303.37 L249.97 304.86 L250.52 306.44 L251.07 308.09 L251.62 309.82 L252.16 311.63 L252.71 313.51 L253.26 315.46 L253.81 317.48 L254.35 319.56 L254.9 321.71 L255.45 323.93 L256 326.2 L256.54 328.53 L257.09 330.91 L257.64 333.35 L258.19 335.83 L258.73 338.36 L259.28 340.94 L259.83 343.55 L260.38 346.21 L260.92 348.89 L261.47 351.61 L262.02 354.36 L262.57 357.14 L263.12 359.93 L263.66 362.75 L264.21 365.58 L264.76 368.42 L265.3 371.28 L265.85 374.14 L266.4 377" fill="none" stroke="#2ca02c" stroke-width="3.0" stroke-linejoin="round" stroke-linecap="butt" clip-path="url(#clipc)"/>
<path d="M335.45 377.3 L336 375.23 L336.55 373.17 L337.09 371.11 L337.64 369.05 L338.19 367.01 L338.74 364.98 L339.28 362.97 L339.83 360.98 L340.38 359.01 L340.93 357.06 L341.47 355.13 L342.02 353.24 L342.57 351.38 L343.12 349.55 L343.66 347.76 L344.21 346 L344.76 344.29 L345.31 342.61 L345.86 340.99 L346.4 339.41 L346.95 337.88 L347.5 336.4 L348.05 334.97 L348.59 333.6 L349.14 332.29 L349.69 331.03 L350.24 329.83 L350.78 328.7 L351.33 327.63 L351.88 326.62 L352.43 325.69 L352.97 324.81 L353.52 324.01 L354.07 323.28 L354.62 322.61 L355.16 322.02 L355.71 321.5 L356.26 321.06 L356.81 320.69 L357.36 320.39 L357.9 320.17 L358.45 320.02 L359 319.95 L359.55 319.95 L360.09 320.03 L360.64 320.19 L361.19 320.42 L361.74 320.73 L362.28 321.12 L362.83 321.58 L363.38 322.11 L363.93 322.72 L364.47 323.4 L365.02 324.15 L365.57 324.98 L366.12 325.87 L366.67 326.84 L367.21 327.88 L367.76 328.98 L368.31 330.15 L368.86 331.38 L369.4 332.68 L369.95 334.04 L370.5 335.46 L371.05 336.94 L371.59 338.48 L372.14 340.07 L372.69 341.72 L373.24 343.41 L373.78 345.16 L374.33 346.96 L374.88 348.79 L375.43 350.68 L375.98 352.6 L376.52 354.56 L377.07 356.56 L377.62 358.59 L378.17 360.66 L378.71 362.75 L379.26 364.87 L379.81 367.01 L380.36 369.17 L380.9 371.35 L381.45 373.55 L382 375.76 L382.55 377.99 L383.09 380.22 L383.64 382.45 L384.19 384.69 L384.74 386.93 L385.29 389.16 L385.83 391.39 L386.38 393.61 L386.93 395.82 L387.48 398.02 L388.02 400.2 L388.57 402.36 L389.12 404.49 L389.67 406.61 L390.21 408.7 L390.76 410.75 L391.31 412.78 L391.86 414.77 L392.4 416.72 L392.95 418.64 L393.5 420.51 L394.05 422.34 L394.6 424.12 L395.14 425.85 L395.69 427.53 L396.24 429.16 L396.79 430.73 L397.33 432.25 L397.88 433.71 L398.43 435.11 L398.98 436.44 L399.52 437.71 L400.07 438.92 L400.62 440.06 L401.17 441.13 L401.71 442.12 L402.26 443.05 L402.81 443.91 L403.36 444.69 L403.9 445.39 L404.45 446.03 L405 446.58 L405.55 447.06 L406.1 447.45 L406.64 447.77 L407.19 448.01 L407.74 448.18 L408.29 448.26 L408.83 448.26 L409.38 448.18 L409.93 448.02 L410.48 447.78 L411.02 447.46 L411.57 447.07 L412.12 446.59 L412.67 446.03 L413.21 445.4 L413.76 444.68 L414.31 443.9 L414.86 443.03 L415.41 442.09 L415.95 441.08 L416.5 439.99 L417.05 438.83 L417.6 437.6 L418.14 436.3 L418.69 434.94 L419.24 433.51 L419.79 432.01 L420.33 430.45 L420.88 428.83 L421.43 427.15 L421.98 425.42 L422.52 423.62 L423.07 421.78 L423.62 419.88 L424.17 417.94 L424.72 415.94 L425.26 413.91 L425.81 411.83 L426.36 409.71 L426.91 407.55 L427.45 405.36 L428 403.14 L428.55 400.89 L429.1 398.61 L429.64 396.3 L430.19 393.97 L430.74 391.63 L431.29 389.27 L431.83 386.89 L432.38 384.5 L432.93 382.11 L433.48 379.7 L434.02 377.3 L434.57 374.9 L435.12 372.49 L435.67 370.1 L436.22 367.71 L436.76 365.33 L437.31 362.97 L437.86 360.63 L438.41 358.3 L438.95 355.99 L439.5 353.71 L440.05 351.46 L440.6 349.24 L441.14 347.05 L441.69 344.89 L442.24 342.77 L442.79 340.69 L443.33 338.66 L443.88 336.66 L444.43 334.72 L444.98 332.82 L445.53 330.98 L446.07 329.18 L446.62 327.45 L447.17 325.77 L447.72 324.15 L448.26 322.59 L448.81 321.09 L449.36 319.66 L449.91 318.3 L450.45 317 L451 315.77 L451.55 314.61 L452.1 313.52 L452.64 312.51 L453.19 311.57 L453.74 310.7 L454.29 309.92 L454.84 309.2 L455.38 308.57 L455.93 308.01 L456.48 307.53 L457.03 307.14 L457.57 306.82 L458.12 306.58 L458.67 306.42 L459.22 306.34 L459.76 306.34 L460.31 306.42 L460.86 306.59 L461.41 306.83 L461.95 307.15 L462.5 307.54 L463.05 308.02 L463.6 308.57 L464.15 309.21 L464.69 309.91 L465.24 310.69 L465.79 311.55 L466.34 312.48 L466.88 313.47 L467.43 314.54 L467.98 315.68 L468.53 316.89 L469.07 318.16 L469.62 319.49 L470.17 320.89 L470.72 322.35 L471.26 323.87 L471.81 325.44 L472.36 327.07 L472.91 328.75 L473.46 330.48 L474 332.26 L474.55 334.09 L475.1 335.96 L475.65 337.88 L476.19 339.83 L476.74 341.82 L477.29 343.85 L477.84 345.9 L478.38 347.99 L478.93 350.11 L479.48 352.24 L480.03 354.4 L480.57 356.58 L481.12 358.78 L481.67 360.99 L482.22 363.21 L482.76 365.44 L483.31 367.67 L483.86 369.91 L484.41 372.15 L484.96 374.38 L485.5 376.61 L486.05 378.84 L486.6 381.05 L487.15 383.25 L487.69 385.43 L488.24 387.59 L488.79 389.73 L489.34 391.85 L489.88 393.94 L490.43 396.01 L490.98 398.04 L491.53 400.04 L492.07 402 L492.62 403.92 L493.17 405.81 L493.72 407.64 L494.27 409.44 L494.81 411.19 L495.36 412.88 L495.91 414.53 L496.46 416.12 L497 417.66 L497.55 419.14 L498.1 420.56 L498.65 421.92 L499.19 423.22 L499.74 424.45 L500.29 425.62 L500.84 426.72 L501.38 427.76 L501.93 428.73 L502.48 429.62 L503.03 430.45 L503.58 431.2 L504.12 431.88 L504.67 432.49 L505.22 433.02 L505.77 433.48 L506.31 433.87 L506.86 434.18 L507.41 434.41 L507.96 434.57 L508.5 434.65 L509.05 434.65 L509.6 434.58 L510.15 434.43 L510.69 434.21 L511.24 433.91 L511.79 433.54 L512.34 433.1 L512.88 432.58 L513.43 431.99 L513.98 431.32 L514.53 430.59 L515.08 429.79 L515.62 428.91 L516.17 427.98 L516.72 426.97 L517.27 425.9 L517.81 424.77 L518.36 423.57 L518.91 422.31 L519.46 421 L520 419.63 L520.55 418.2 L521.1 416.72 L521.65 415.19 L522.19 413.61 L522.74 411.99 L523.29 410.31 L523.84 408.6 L524.39 406.84 L524.93 405.05 L525.48 403.22 L526.03 401.36 L526.58 399.47 L527.12 397.54 L527.67 395.59 L528.22 393.62 L528.77 391.63 L529.31 389.62 L529.86 387.59 L530.41 385.55 L530.96 383.49 L531.5 381.43 L532.05 379.37 L532.6 377.3" fill="none" stroke="#1f77b4" stroke-width="3.0" stroke-linejoin="round" stroke-linecap="butt" clip-path="url(#clipd)"/>
<path d="M335.45 377.3 L336 377.3 L336.55 369.21 L337.09 369.21 L337.64 369.21 L338.19 361.12 L338.74 361.12 L339.28 361.12 L339.83 353.03 L340.38 353.03 L340.93 344.94 L341.47 344.94 L342.02 344.94 L342.57 336.85 L343.12 336.85 L343.66 336.85 L344.21 336.85 L344.76 328.76 L345.31 328.76 L345.86 328.76 L346.4 320.67 L346.95 320.67 L347.5 320.67 L348.05 320.67 L348.59 312.58 L349.14 312.58 L349.69 312.58 L350.24 312.58 L350.78 304.49 L351.33 304.49 L351.88 304.49 L352.43 304.49 L352.97 304.49 L353.52 304.49 L354.07 296.4 L354.62 296.4 L355.16 296.4 L355.71 296.4 L356.26 296.4 L356.81 296.4 L357.36 296.4 L357.9 296.4 L358.45 296.4 L359 296.4 L359.55 296.4 L360.09 296.4 L360.64 296.4 L361.19 296.4 L361.74 296.4 L362.28 296.4 L362.83 296.4 L363.38 296.4 L363.93 296.4 L364.47 296.4 L365.02 296.4 L365.57 304.49 L366.12 304.49 L366.67 304.49 L367.21 304.49 L367.76 304.49 L368.31 304.49 L368.86 312.58 L369.4 312.58 L369.95 312.58 L370.5 312.58 L371.05 312.58 L371.59 320.67 L372.14 320.67 L372.69 320.67 L373.24 320.67 L373.78 328.76 L374.33 328.76 L374.88 328.76 L375.43 336.85 L375.98 336.85 L376.52 336.85 L377.07 344.94 L377.62 344.94 L378.17 344.94 L378.71 353.03 L379.26 353.03 L379.81 353.03 L380.36 361.12 L380.9 361.12 L381.45 361.12 L382 369.21 L382.55 369.21 L383.09 369.21 L383.64 377.3 L384.19 377.3 L384.74 385.39 L385.29 385.39 L385.83 385.39 L386.38 393.48 L386.93 393.48 L387.48 393.48 L388.02 401.57 L388.57 401.57 L389.12 401.57 L389.67 409.66 L390.21 409.66 L390.76 417.75 L391.31 417.75 L391.86 417.75 L392.4 425.84 L392.95 425.84 L393.5 425.84 L394.05 425.84 L394.6 433.93 L395.14 433.93 L395.69 433.93 L396.24 442.02 L396.79 442.02 L397.33 442.02 L397.88 442.02 L398.43 450.11 L398.98 450.11 L399.52 450.11 L400.07 450.11 L400.62 450.11 L401.17 458.2 L401.71 458.2 L402.26 458.2 L402.81 458.2 L403.36 458.2 L403.9 458.2 L404.45 466.29 L405 466.29 L405.55 466.29 L406.1 466.29 L406.64 466.29 L407.19 466.29 L407.74 466.29 L408.29 466.29 L408.83 466.29 L409.38 466.29 L409.93 466.29 L410.48 466.29 L411.02 466.29 L411.57 466.29 L412.12 466.29 L412.67 466.29 L413.21 466.29 L413.76 466.29 L414.31 458.2 L414.86 458.2 L415.41 458.2 L415.95 458.2 L416.5 458.2 L417.05 458.2 L417.6 450.11 L418.14 450.11 L418.69 450.11 L419.24 450.11 L419.79 450.11 L420.33 442.02 L420.88 442.02 L421.43 442.02 L421.98 442.02 L422.52 433.93 L423.07 433.93 L423.62 433.93 L424.17 425.84 L424.72 425.84 L425.26 425.84 L425.81 417.75 L426.36 417.75 L426.91 417.75 L427.45 409.66 L428 409.66 L428.55 409.66 L429.1 401.57 L429.64 401.57 L430.19 401.57 L430.74 393.48 L431.29 393.48 L431.83 393.48 L432.38 385.39 L432.93 385.39 L433.48 377.3 L434.02 377.3 L434.57 377.3 L435.12 369.21 L435.67 369.21 L436.22 361.12 L436.76 361.12 L437.31 361.12 L437.86 353.03 L438.41 353.03 L438.95 353.03 L439.5 344.94 L440.05 344.94 L440.6 344.94 L441.14 336.85 L441.69 336.85 L442.24 336.85 L442.79 328.76 L443.33 328.76 L443.88 328.76 L444.43 320.67 L444.98 320.67 L445.53 320.67 L446.07 312.58 L446.62 312.58 L447.17 312.58 L447.72 312.58 L448.26 304.49 L448.81 304.49 L449.36 304.49 L449.91 304.49 L450.45 304.49 L451 296.4 L451.55 296.4 L452.1 296.4 L452.64 296.4 L453.19 296.4 L453.74 296.4 L454.29 288.31 L454.84 288.31 L455.38 288.31 L455.93 288.31 L456.48 288.31 L457.03 288.31 L457.57 288.31 L458.12 288.31 L458.67 288.31 L459.22 288.31 L459.76 288.31 L460.31 288.31 L460.86 288.31 L461.41 288.31 L461.95 288.31 L462.5 288.31 L463.05 288.31 L463.6 288.31 L464.15 296.4 L464.69 296.4 L465.24 296.4 L465.79 296.4 L466.34 296.4 L466.88 296.4 L467.43 304.49 L467.98 304.49 L468.53 304.49 L469.07 304.49 L469.62 304.49 L470.17 312.58 L470.72 312.58 L471.26 312.58 L471.81 312.58 L472.36 320.67 L472.91 320.67 L473.46 320.67 L474 328.76 L474.55 328.76 L475.1 328.76 L475.65 328.76 L476.19 336.85 L476.74 336.85 L477.29 336.85 L477.84 344.94 L478.38 344.94 L478.93 353.03 L479.48 353.03 L480.03 353.03 L480.57 361.12 L481.12 361.12 L481.67 361.12 L482.22 369.21 L482.76 369.21 L483.31 369.21 L483.86 377.3 L484.41 377.3 L484.96 385.39 L485.5 385.39 L486.05 385.39 L486.6 393.48 L487.15 393.48 L487.69 393.48 L488.24 401.57 L488.79 401.57 L489.34 401.57 L489.88 409.66 L490.43 409.66 L490.98 409.66 L491.53 417.75 L492.07 417.75 L492.62 417.75 L493.17 425.84 L493.72 425.84 L494.27 425.84 L494.81 433.93 L495.36 433.93 L495.91 433.93 L496.46 433.93 L497 442.02 L497.55 442.02 L498.1 442.02 L498.65 442.02 L499.19 442.02 L499.74 450.11 L500.29 450.11 L500.84 450.11 L501.38 450.11 L501.93 450.11 L502.48 450.11 L503.03 458.2 L503.58 458.2 L504.12 458.2 L504.67 458.2 L505.22 458.2 L505.77 458.2 L506.31 458.2 L506.86 458.2 L507.41 458.2 L507.96 458.2 L508.5 458.2 L509.05 458.2 L509.6 458.2 L510.15 458.2 L510.69 458.2 L511.24 458.2 L511.79 458.2 L512.34 458.2 L512.88 458.2 L513.43 458.2 L513.98 458.2 L514.53 450.11 L515.08 450.11 L515.62 450.11 L516.17 450.11 L516.72 450.11 L517.27 450.11 L517.81 442.02 L518.36 442.02 L518.91 442.02 L519.46 442.02 L520 433.93 L520.55 433.93 L521.1 433.93 L521.65 433.93 L522.19 425.84 L522.74 425.84 L523.29 425.84 L523.84 417.75 L524.39 417.75 L524.93 417.75 L525.48 417.75 L526.03 409.66 L526.58 409.66 L527.12 409.66 L527.67 401.57 L528.22 401.57 L528.77 393.48 L529.31 393.48 L529.86 393.48 L530.41 385.39 L530.96 385.39 L531.5 385.39 L532.05 377.3 L532.6 377.3" fill="none" stroke="#ff7f0e" stroke-width="3.0" stroke-linejoin="round" stroke-linecap="butt" clip-path="url(#clipd)"/>
<path d="M335.45 377.3 L336 377.3 L336.55 377.3 L337.09 369.21 L337.64 369.21 L338.19 369.21 L338.74 369.21 L339.28 369.21 L339.83 361.12 L340.38 361.12 L340.93 361.12 L341.47 361.12 L342.02 361.12 L342.57 361.12 L343.12 353.03 L343.66 353.03 L344.21 353.03 L344.76 353.03 L345.31 353.03 L345.86 353.03 L346.4 344.94 L346.95 344.94 L347.5 344.94 L348.05 344.94 L348.59 344.94 L349.14 344.94 L349.69 344.94 L350.24 336.85 L350.78 336.85 L351.33 336.85 L351.88 336.85 L352.43 336.85 L352.97 336.85 L353.52 336.85 L354.07 336.85 L354.62 336.85 L355.16 336.85 L355.71 336.85 L356.26 336.85 L356.81 336.85 L357.36 328.76 L357.9 328.76 L358.45 328.76 L359 328.76 L359.55 328.76 L360.09 328.76 L360.64 328.76 L361.19 328.76 L361.74 328.76 L362.28 336.85 L362.83 336.85 L363.38 336.85 L363.93 336.85 L364.47 336.85 L365.02 336.85 L365.57 336.85 L366.12 336.85 L366.67 336.85 L367.21 336.85 L367.76 336.85 L368.31 336.85 L368.86 336.85 L369.4 344.94 L369.95 344.94 L370.5 344.94 L371.05 344.94 L371.59 344.94 L372.14 344.94 L372.69 344.94 L373.24 353.03 L373.78 353.03 L374.33 353.03 L374.88 353.03 L375.43 353.03 L375.98 353.03 L376.52 361.12 L377.07 361.12 L377.62 361.12 L378.17 361.12 L378.71 361.12 L379.26 369.21 L379.81 369.21 L380.36 369.21 L380.9 369.21 L381.45 369.21 L382 377.3 L382.55 377.3 L383.09 377.3 L383.64 377.3 L384.19 377.3 L384.74 385.39 L385.29 385.39 L385.83 385.39 L386.38 385.39 L386.93 385.39 L387.48 393.48 L388.02 393.48 L388.57 393.48 L389.12 393.48 L389.67 393.48 L390.21 401.57 L390.76 401.57 L391.31 401.57 L391.86 401.57 L392.4 401.57 L392.95 409.66 L393.5 409.66 L394.05 409.66 L394.6 409.66 L395.14 409.66 L395.69 409.66 L396.24 417.75 L396.79 417.75 L397.33 417.75 L397.88 417.75 L398.43 417.75 L398.98 417.75 L399.52 417.75 L400.07 417.75 L400.62 425.84 L401.17 425.84 L401.71 425.84 L402.26 425.84 L402.81 425.84 L403.36 425.84 L403.9 425.84 L404.45 425.84 L405 425.84 L405.55 425.84 L406.1 425.84 L406.64 425.84 L407.19 425.84 L407.74 425.84 L408.29 425.84 L408.83 425.84 L409.38 425.84 L409.93 425.84 L410.48 425.84 L411.02 425.84 L411.57 425.84 L412.12 425.84 L412.67 425.84 L413.21 425.84 L413.76 425.84 L414.31 425.84 L414.86 425.84 L415.41 425.84 L415.95 425.84 L416.5 425.84 L417.05 425.84 L417.6 417.75 L418.14 417.75 L418.69 417.75 L419.24 417.75 L419.79 417.75 L420.33 417.75 L420.88 417.75 L421.43 417.75 L421.98 409.66 L422.52 409.66 L423.07 409.66 L423.62 409.66 L424.17 409.66 L424.72 409.66 L425.26 401.57 L425.81 401.57 L426.36 401.57 L426.91 401.57 L427.45 401.57 L428 393.48 L428.55 393.48 L429.1 393.48 L429.64 393.48 L430.19 393.48 L430.74 385.39 L431.29 385.39 L431.83 385.39 L432.38 385.39 L432.93 377.3 L433.48 377.3 L434.02 377.3 L434.57 377.3 L435.12 377.3 L435.67 369.21 L436.22 369.21 L436.76 369.21 L437.31 369.21 L437.86 361.12 L438.41 361.12 L438.95 361.12 L439.5 361.12 L440.05 361.12 L440.6 353.03 L441.14 353.03 L441.69 353.03 L442.24 353.03 L442.79 353.03 L443.33 344.94 L443.88 344.94 L444.43 344.94 L444.98 344.94 L445.53 344.94 L446.07 344.94 L446.62 336.85 L447.17 336.85 L447.72 336.85 L448.26 336.85 L448.81 336.85 L449.36 336.85 L449.91 336.85 L450.45 336.85 L451 328.76 L451.55 328.76 L452.1 328.76 L452.64 328.76 L453.19 328.76 L453.74 328.76 L454.29 328.76 L454.84 328.76 L455.38 328.76 L455.93 328.76 L456.48 328.76 L457.03 328.76 L457.57 328.76 L458.12 328.76 L458.67 328.76 L459.22 328.76 L459.76 328.76 L460.31 328.76 L460.86 328.76 L461.41 328.76 L461.95 328.76 L462.5 328.76 L463.05 328.76 L463.6 328.76 L464.15 328.76 L464.69 328.76 L465.24 328.76 L465.79 328.76 L466.34 328.76 L466.88 328.76 L467.43 328.76 L467.98 336.85 L468.53 336.85 L469.07 336.85 L469.62 336.85 L470.17 336.85 L470.72 336.85 L471.26 336.85 L471.81 336.85 L472.36 344.94 L472.91 344.94 L473.46 344.94 L474 344.94 L474.55 344.94 L475.1 344.94 L475.65 353.03 L476.19 353.03 L476.74 353.03 L477.29 353.03 L477.84 353.03 L478.38 361.12 L478.93 361.12 L479.48 361.12 L480.03 361.12 L480.57 361.12 L481.12 369.21 L481.67 369.21 L482.22 369.21 L482.76 369.21 L483.31 369.21 L483.86 377.3 L484.41 377.3 L484.96 377.3 L485.5 377.3 L486.05 377.3 L486.6 385.39 L487.15 385.39 L487.69 385.39 L488.24 385.39 L488.79 385.39 L489.34 393.48 L489.88 393.48 L490.43 393.48 L490.98 393.48 L491.53 393.48 L492.07 401.57 L492.62 401.57 L493.17 401.57 L493.72 401.57 L494.27 401.57 L494.81 401.57 L495.36 409.66 L495.91 409.66 L496.46 409.66 L497 409.66 L497.55 409.66 L498.1 409.66 L498.65 409.66 L499.19 417.75 L499.74 417.75 L500.29 417.75 L500.84 417.75 L501.38 417.75 L501.93 417.75 L502.48 417.75 L503.03 417.75 L503.58 417.75 L504.12 417.75 L504.67 417.75 L505.22 417.75 L505.77 417.75 L506.31 425.84 L506.86 425.84 L507.41 425.84 L507.96 425.84 L508.5 425.84 L509.05 425.84 L509.6 425.84 L510.15 425.84 L510.69 425.84 L511.24 417.75 L511.79 417.75 L512.34 417.75 L512.88 417.75 L513.43 417.75 L513.98 417.75 L514.53 417.75 L515.08 417.75 L515.62 417.75 L516.17 417.75 L516.72 417.75 L517.27 417.75 L517.81 417.75 L518.36 409.66 L518.91 409.66 L519.46 409.66 L520 409.66 L520.55 409.66 L521.1 409.66 L521.65 409.66 L522.19 401.57 L522.74 401.57 L523.29 401.57 L523.84 401.57 L524.39 401.57 L524.93 401.57 L525.48 393.48 L526.03 393.48 L526.58 393.48 L527.12 393.48 L527.67 393.48 L528.22 393.48 L528.77 385.39 L529.31 385.39 L529.86 385.39 L530.41 385.39 L530.96 385.39 L531.5 377.3 L532.05 377.3 L532.6 377.3" fill="none" stroke="#2ca02c" stroke-width="3.0" stroke-linejoin="round" stroke-linecap="butt" clip-path="url(#clipd)"/>
<path d="M69.3 219.7v-1.8M69.3 23.5v1.8" stroke="#8a8a8a" stroke-width="1.3"/>
<text x="69.3" y="237.8" text-anchor="middle" font-size="16.2">0</text>
<path d="M118.57 219.7v-1.8M118.57 23.5v1.8" stroke="#8a8a8a" stroke-width="1.3"/>
<text x="118.57" y="237.8" text-anchor="middle" font-size="16.2">90</text>
<path d="M167.85 219.7v-1.8M167.85 23.5v1.8" stroke="#8a8a8a" stroke-width="1.3"/>
<text x="167.85" y="237.8" text-anchor="middle" font-size="16.2">180</text>
<path d="M217.12 219.7v-1.8M217.12 23.5v1.8" stroke="#8a8a8a" stroke-width="1.3"/>
<text x="217.12" y="237.8" text-anchor="middle" font-size="16.2">270</text>
<path d="M266.4 219.7v-1.8M266.4 23.5v1.8" stroke="#8a8a8a" stroke-width="1.3"/>
<text x="266.4" y="237.8" text-anchor="middle" font-size="16.2">360</text>
<path d="M69.3 54.9h1.8M266.4 54.9h-1.8" stroke="#8a8a8a" stroke-width="1.3"/>
<text x="63.3" y="60.65" text-anchor="end" font-size="16.2">0.604</text>
<path d="M69.3 95.5h1.8M266.4 95.5h-1.8" stroke="#8a8a8a" stroke-width="1.3"/>
<text x="63.3" y="101.25" text-anchor="end" font-size="16.2">0.602</text>
<path d="M69.3 136.1h1.8M266.4 136.1h-1.8" stroke="#8a8a8a" stroke-width="1.3"/>
<text x="63.3" y="141.85" text-anchor="end" font-size="16.2">0.600</text>
<path d="M69.3 176.7h1.8M266.4 176.7h-1.8" stroke="#8a8a8a" stroke-width="1.3"/>
<text x="63.3" y="182.45" text-anchor="end" font-size="16.2">0.598</text>
<path d="M69.3 217.3h1.8M266.4 217.3h-1.8" stroke="#8a8a8a" stroke-width="1.3"/>
<text x="63.3" y="223.05" text-anchor="end" font-size="16.2">0.596</text>
<text x="167.85" y="17.8" text-anchor="middle" font-size="16.6">(a)</text>
<text x="167.85" y="255.1" text-anchor="middle" font-size="16.6">Relative azimuth angle(&#176;)</text>
<path d="M335.5 219.7v-1.8M335.5 23.6v1.8" stroke="#8a8a8a" stroke-width="1.3"/>
<text x="335.5" y="237.8" text-anchor="middle" font-size="16.2">0</text>
<path d="M384.78 219.7v-1.8M384.78 23.6v1.8" stroke="#8a8a8a" stroke-width="1.3"/>
<text x="384.78" y="237.8" text-anchor="middle" font-size="16.2">90</text>
<path d="M434.05 219.7v-1.8M434.05 23.6v1.8" stroke="#8a8a8a" stroke-width="1.3"/>
<text x="434.05" y="237.8" text-anchor="middle" font-size="16.2">180</text>
<path d="M483.33 219.7v-1.8M483.33 23.6v1.8" stroke="#8a8a8a" stroke-width="1.3"/>
<text x="483.33" y="237.8" text-anchor="middle" font-size="16.2">270</text>
<path d="M532.6 219.7v-1.8M532.6 23.6v1.8" stroke="#8a8a8a" stroke-width="1.3"/>
<text x="532.6" y="237.8" text-anchor="middle" font-size="16.2">360</text>
<path d="M335.5 49.8h1.8M532.6 49.8h-1.8" stroke="#8a8a8a" stroke-width="1.3"/>
<text x="329.5" y="55.55" text-anchor="end" font-size="16.2">0.393</text>
<path d="M335.5 111h1.8M532.6 111h-1.8" stroke="#8a8a8a" stroke-width="1.3"/>
<text x="329.5" y="116.75" text-anchor="end" font-size="16.2">0.390</text>
<path d="M335.5 172.2h1.8M532.6 172.2h-1.8" stroke="#8a8a8a" stroke-width="1.3"/>
<text x="329.5" y="177.95" text-anchor="end" font-size="16.2">0.388</text>
<text x="434.05" y="17.9" text-anchor="middle" font-size="16.6">(b)</text>
<text x="434.05" y="255.1" text-anchor="middle" font-size="16.6">Relative azimuth angle(&#176;)</text>
<path d="M69.3 475.2v-1.8M69.3 279v1.8" stroke="#8a8a8a" stroke-width="1.3"/>
<text x="69.3" y="493.3" text-anchor="middle" font-size="16.2">0</text>
<path d="M118.57 475.2v-1.8M118.57 279v1.8" stroke="#8a8a8a" stroke-width="1.3"/>
<text x="118.57" y="493.3" text-anchor="middle" font-size="16.2">90</text>
<path d="M167.85 475.2v-1.8M167.85 279v1.8" stroke="#8a8a8a" stroke-width="1.3"/>
<text x="167.85" y="493.3" text-anchor="middle" font-size="16.2">180</text>
<path d="M217.12 475.2v-1.8M217.12 279v1.8" stroke="#8a8a8a" stroke-width="1.3"/>
<text x="217.12" y="493.3" text-anchor="middle" font-size="16.2">270</text>
<path d="M266.4 475.2v-1.8M266.4 279v1.8" stroke="#8a8a8a" stroke-width="1.3"/>
<text x="266.4" y="493.3" text-anchor="middle" font-size="16.2">360</text>
<path d="M69.3 305.3h1.8M266.4 305.3h-1.8" stroke="#8a8a8a" stroke-width="1.3"/>
<text x="63.3" y="311.05" text-anchor="end" font-size="16.2">&#8722;0.0020</text>
<path d="M69.3 377.5h1.8M266.4 377.5h-1.8" stroke="#8a8a8a" stroke-width="1.3"/>
<text x="63.3" y="383.25" text-anchor="end" font-size="16.2">&#8722;0.0040</text>
<path d="M69.3 449.7h1.8M266.4 449.7h-1.8" stroke="#8a8a8a" stroke-width="1.3"/>
<text x="63.3" y="455.45" text-anchor="end" font-size="16.2">&#8722;0.0060</text>
<text x="167.85" y="273.3" text-anchor="middle" font-size="16.6">(c)</text>
<text x="167.85" y="510.6" text-anchor="middle" font-size="16.6">Relative azimuth angle(&#176;)</text>
<path d="M335.45 475.1v-1.8M335.45 279.1v1.8" stroke="#8a8a8a" stroke-width="1.3"/>
<text x="335.45" y="493.2" text-anchor="middle" font-size="16.2">0</text>
<path d="M384.74 475.1v-1.8M384.74 279.1v1.8" stroke="#8a8a8a" stroke-width="1.3"/>
<text x="384.74" y="493.2" text-anchor="middle" font-size="16.2">90</text>
<path d="M434.02 475.1v-1.8M434.02 279.1v1.8" stroke="#8a8a8a" stroke-width="1.3"/>
<text x="434.02" y="493.2" text-anchor="middle" font-size="16.2">180</text>
<path d="M483.31 475.1v-1.8M483.31 279.1v1.8" stroke="#8a8a8a" stroke-width="1.3"/>
<text x="483.31" y="493.2" text-anchor="middle" font-size="16.2">270</text>
<path d="M532.6 475.1v-1.8M532.6 279.1v1.8" stroke="#8a8a8a" stroke-width="1.3"/>
<text x="532.6" y="493.2" text-anchor="middle" font-size="16.2">360</text>
<path d="M335.45 296.4h1.8M532.6 296.4h-1.8" stroke="#8a8a8a" stroke-width="1.3"/>
<text x="329.45" y="302.15" text-anchor="end" font-size="16.2">0.0010</text>
<path d="M335.45 336.85h1.8M532.6 336.85h-1.8" stroke="#8a8a8a" stroke-width="1.3"/>
<text x="329.45" y="342.6" text-anchor="end" font-size="16.2">0.0005</text>
<path d="M335.45 377.3h1.8M532.6 377.3h-1.8" stroke="#8a8a8a" stroke-width="1.3"/>
<text x="329.45" y="383.05" text-anchor="end" font-size="16.2">0.0000</text>
<path d="M335.45 417.75h1.8M532.6 417.75h-1.8" stroke="#8a8a8a" stroke-width="1.3"/>
<text x="329.45" y="423.5" text-anchor="end" font-size="16.2">&#8722;0.0005</text>
<path d="M335.45 458.2h1.8M532.6 458.2h-1.8" stroke="#8a8a8a" stroke-width="1.3"/>
<text x="329.45" y="463.95" text-anchor="end" font-size="16.2">&#8722;0.0010</text>
<text x="434.02" y="273.4" text-anchor="middle" font-size="16.6">(d)</text>
<text x="434.02" y="510.5" text-anchor="middle" font-size="16.6">Relative azimuth angle(&#176;)</text>
<path d="M79.8 541.3H116.3" stroke="#1f77b4" stroke-width="2.8"/>
<text x="128" y="546.6" text-anchor="start" font-size="16.6">pBRDF</text>
<path d="M214.4 541.3H250.4" stroke="#ff7f0e" stroke-width="2.8"/>
<text x="262.4" y="546.6" text-anchor="start" font-size="16.6">FASTEM6</text>
<path d="M369.9 541.3H405.6" stroke="#2ca02c" stroke-width="2.8"/>
<text x="417.6" y="546.6" text-anchor="start" font-size="16.6">SURFEM</text></svg>
</body></html>
